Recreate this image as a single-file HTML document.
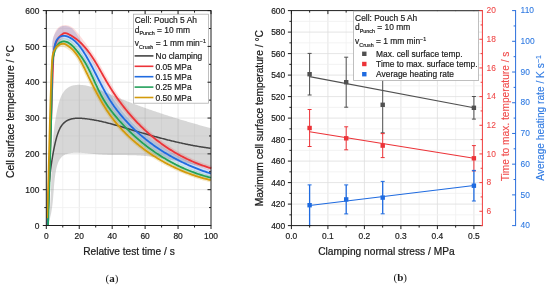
<!DOCTYPE html>
<html><head><meta charset="utf-8"><style>
html,body{margin:0;padding:0;background:#fff;width:550px;height:287px;overflow:hidden;}
#w{will-change:transform;width:550px;height:287px;}
svg{display:block;font-family:"Liberation Sans",sans-serif;}
</style></head><body><div id="w">
<svg width="550" height="287" viewBox="0 0 550 287">
<rect width="550" height="287" fill="#ffffff"/>
<line x1="62.77" y1="10.60" x2="62.77" y2="225.50" stroke="#f0f0f0" stroke-width="0.80"/>
<line x1="79.24" y1="10.60" x2="79.24" y2="225.50" stroke="#dedede" stroke-width="0.80"/>
<line x1="95.71" y1="10.60" x2="95.71" y2="225.50" stroke="#f0f0f0" stroke-width="0.80"/>
<line x1="112.18" y1="10.60" x2="112.18" y2="225.50" stroke="#dedede" stroke-width="0.80"/>
<line x1="128.65" y1="10.60" x2="128.65" y2="225.50" stroke="#f0f0f0" stroke-width="0.80"/>
<line x1="145.12" y1="10.60" x2="145.12" y2="225.50" stroke="#dedede" stroke-width="0.80"/>
<line x1="161.59" y1="10.60" x2="161.59" y2="225.50" stroke="#f0f0f0" stroke-width="0.80"/>
<line x1="178.06" y1="10.60" x2="178.06" y2="225.50" stroke="#dedede" stroke-width="0.80"/>
<line x1="194.53" y1="10.60" x2="194.53" y2="225.50" stroke="#f0f0f0" stroke-width="0.80"/>
<line x1="46.30" y1="207.59" x2="211.00" y2="207.59" stroke="#f0f0f0" stroke-width="0.80"/>
<line x1="46.30" y1="189.68" x2="211.00" y2="189.68" stroke="#dedede" stroke-width="0.80"/>
<line x1="46.30" y1="171.78" x2="211.00" y2="171.78" stroke="#f0f0f0" stroke-width="0.80"/>
<line x1="46.30" y1="153.87" x2="211.00" y2="153.87" stroke="#dedede" stroke-width="0.80"/>
<line x1="46.30" y1="135.96" x2="211.00" y2="135.96" stroke="#f0f0f0" stroke-width="0.80"/>
<line x1="46.30" y1="118.05" x2="211.00" y2="118.05" stroke="#dedede" stroke-width="0.80"/>
<line x1="46.30" y1="100.14" x2="211.00" y2="100.14" stroke="#f0f0f0" stroke-width="0.80"/>
<line x1="46.30" y1="82.23" x2="211.00" y2="82.23" stroke="#dedede" stroke-width="0.80"/>
<line x1="46.30" y1="64.32" x2="211.00" y2="64.32" stroke="#f0f0f0" stroke-width="0.80"/>
<line x1="46.30" y1="46.42" x2="211.00" y2="46.42" stroke="#dedede" stroke-width="0.80"/>
<line x1="46.30" y1="28.51" x2="211.00" y2="28.51" stroke="#f0f0f0" stroke-width="0.80"/>
<path d="M48.31 225.60 L48.43 224.60 L48.56 223.60 L48.67 222.61 L48.79 221.61 L48.90 220.62 L49.01 219.62 L49.11 218.63 L49.21 217.64 L49.31 216.65 L49.40 215.66 L49.49 214.67 L49.58 213.68 L49.66 212.69 L49.75 211.71 L49.82 210.72 L49.90 209.74 L49.97 208.75 L50.04 207.77 L50.11 206.79 L50.18 205.80 L50.24 204.82 L50.30 203.84 L50.36 202.86 L50.41 201.88 L50.47 200.90 L50.52 199.93 L50.57 198.95 L50.62 197.97 L50.67 197.00 L50.71 196.02 L50.75 195.04 L50.79 194.07 L50.83 193.09 L50.87 192.12 L50.91 191.15 L50.95 190.17 L50.98 189.20 L51.02 188.23 L51.05 187.26 L51.08 186.29 L51.11 185.32 L51.14 184.34 L51.17 183.37 L51.20 182.40 L51.23 181.43 L51.26 180.46 L51.28 179.50 L51.31 178.53 L51.34 177.56 L51.36 176.59 L51.39 175.62 L51.42 174.65 L51.45 173.68 L51.47 172.72 L51.50 171.75 L51.53 170.78 L51.56 169.81 L51.58 168.84 L51.61 167.88 L51.64 166.91 L51.67 165.94 L51.70 164.97 L51.74 164.01 L51.77 163.04 L51.80 162.07 L51.84 161.10 L51.87 160.13 L51.91 159.17 L51.95 158.20 L51.99 157.23 L52.03 156.26 L52.08 155.29 L52.12 154.32 L52.17 153.35 L52.22 152.38 L52.27 151.41 L52.32 150.44 L52.37 149.47 L52.43 148.50 L52.49 147.53 L52.55 146.56 L52.61 145.59 L52.68 144.62 L52.75 143.65 L52.82 142.67 L52.89 141.70 L52.97 140.73 L53.05 139.75 L53.13 138.78 L53.21 137.80 L53.30 136.83 L53.39 135.85 L53.49 134.87 L53.58 133.90 L53.68 132.92 L53.79 131.94 L53.90 130.96 L54.01 129.98 L54.12 129.00 L54.24 128.02 L54.36 127.04 L54.49 126.06 L54.62 125.07 L54.76 124.09 L54.89 123.10 L55.04 122.12 L55.18 121.13 L55.34 120.15 L55.49 119.16 L55.65 118.17 L55.82 117.18 L55.99 116.19 L56.16 115.20 L56.34 114.21 L56.53 113.21 L56.72 112.22 L56.91 111.22 L57.11 110.23 L57.32 109.23 L57.53 108.23 L57.74 107.24 L57.97 106.25 L58.21 105.26 L58.45 104.28 L58.71 103.30 L58.98 102.34 L59.26 101.38 L59.56 100.44 L59.87 99.51 L60.20 98.60 L60.55 97.70 L60.91 96.82 L61.30 95.96 L61.71 95.12 L62.13 94.31 L62.58 93.52 L63.06 92.75 L63.56 92.01 L64.09 91.30 L64.64 90.62 L65.22 89.98 L65.84 89.36 L66.48 88.78 L67.15 88.24 L67.86 87.73 L68.60 87.26 L69.37 86.84 L70.18 86.45 L71.03 86.11 L71.91 85.81 L72.82 85.56 L73.76 85.34 L74.73 85.17 L75.71 85.03 L76.71 84.93 L77.73 84.87 L78.76 84.84 L79.80 84.85 L80.85 84.89 L81.89 84.96 L82.94 85.06 L83.98 85.19 L85.01 85.34 L86.04 85.53 L87.06 85.74 L88.07 85.96 L89.06 86.21 L90.05 86.47 L91.03 86.75 L92.00 87.04 L92.95 87.34 L93.90 87.65 L94.83 87.97 L95.76 88.31 L96.68 88.65 L97.60 89.00 L98.51 89.36 L99.41 89.72 L100.31 90.09 L101.20 90.47 L102.10 90.85 L102.98 91.23 L103.87 91.61 L104.76 92.00 L105.64 92.38 L106.52 92.77 L107.41 93.16 L108.30 93.54 L109.18 93.92 L110.07 94.30 L110.96 94.68 L111.85 95.06 L112.74 95.44 L113.64 95.81 L114.53 96.19 L115.43 96.56 L116.32 96.93 L117.22 97.30 L118.12 97.67 L119.02 98.04 L119.92 98.40 L120.82 98.77 L121.72 99.13 L122.62 99.49 L123.53 99.85 L124.43 100.21 L125.34 100.57 L126.24 100.92 L127.15 101.28 L128.06 101.63 L128.97 101.98 L129.88 102.33 L130.79 102.68 L131.70 103.03 L132.62 103.38 L133.53 103.72 L134.45 104.06 L135.36 104.41 L136.28 104.75 L137.19 105.09 L138.11 105.43 L139.03 105.76 L139.95 106.10 L140.87 106.43 L141.79 106.77 L142.71 107.10 L143.63 107.43 L144.55 107.76 L145.48 108.09 L146.40 108.42 L147.33 108.74 L148.25 109.07 L149.18 109.39 L150.10 109.71 L151.03 110.03 L151.96 110.35 L152.88 110.67 L153.81 110.99 L154.74 111.30 L155.67 111.62 L156.60 111.93 L157.53 112.24 L158.46 112.56 L159.39 112.87 L160.33 113.17 L161.26 113.48 L162.19 113.79 L163.12 114.09 L164.06 114.40 L164.99 114.70 L165.93 115.00 L166.86 115.30 L167.80 115.60 L168.73 115.90 L169.67 116.20 L170.60 116.50 L171.54 116.79 L172.48 117.08 L173.41 117.38 L174.35 117.67 L175.29 117.96 L176.22 118.25 L177.16 118.54 L178.10 118.83 L179.04 119.11 L179.98 119.40 L180.92 119.68 L181.86 119.96 L182.79 120.25 L183.73 120.53 L184.67 120.81 L185.61 121.09 L186.55 121.36 L187.49 121.64 L188.43 121.92 L189.37 122.19 L190.31 122.46 L191.25 122.74 L192.19 123.01 L193.13 123.28 L194.07 123.55 L195.01 123.82 L195.95 124.09 L196.89 124.35 L197.83 124.62 L198.77 124.88 L199.71 125.15 L200.65 125.41 L201.59 125.67 L202.53 125.93 L203.46 126.19 L204.40 126.45 L205.34 126.71 L206.28 126.97 L207.22 127.22 L208.16 127.48 L209.10 127.73 L210.03 127.99 L210.97 128.24 L210.99 168.97 L210.29 168.80 L209.59 168.63 L208.88 168.46 L208.18 168.29 L207.47 168.12 L206.77 167.95 L206.06 167.78 L205.35 167.61 L204.64 167.44 L203.93 167.26 L203.22 167.09 L202.50 166.92 L201.79 166.75 L201.07 166.57 L200.36 166.40 L199.64 166.23 L198.92 166.05 L198.20 165.88 L197.48 165.71 L196.76 165.53 L196.03 165.36 L195.31 165.19 L194.58 165.01 L193.86 164.84 L193.13 164.67 L192.41 164.50 L191.68 164.33 L190.95 164.15 L190.22 163.98 L189.49 163.81 L188.76 163.64 L188.02 163.47 L187.29 163.31 L186.56 163.14 L185.82 162.97 L185.09 162.80 L184.36 162.64 L183.62 162.47 L182.88 162.31 L182.15 162.15 L181.41 161.98 L180.67 161.82 L179.93 161.66 L179.19 161.50 L178.45 161.34 L177.71 161.19 L176.97 161.03 L176.23 160.88 L175.49 160.72 L174.75 160.57 L174.01 160.42 L173.27 160.27 L172.53 160.12 L171.79 159.97 L171.04 159.83 L170.30 159.68 L169.56 159.54 L168.82 159.40 L168.07 159.26 L167.33 159.12 L166.59 158.99 L165.84 158.85 L165.10 158.72 L164.36 158.59 L163.61 158.46 L162.87 158.34 L162.13 158.21 L161.38 158.09 L160.64 157.97 L159.90 157.85 L159.15 157.73 L158.41 157.62 L157.67 157.51 L156.93 157.40 L156.18 157.29 L155.44 157.18 L154.70 157.08 L153.96 156.98 L153.22 156.88 L152.48 156.78 L151.74 156.69 L151.00 156.60 L150.26 156.51 L149.52 156.43 L148.78 156.34 L148.04 156.26 L147.30 156.18 L146.56 156.11 L145.83 156.04 L145.09 155.97 L144.35 155.90 L143.62 155.84 L142.88 155.78 L142.15 155.72 L141.42 155.67 L140.68 155.61 L139.95 155.57 L139.22 155.52 L138.49 155.48 L137.76 155.44 L137.03 155.40 L136.30 155.37 L135.57 155.34 L134.84 155.31 L134.12 155.28 L133.39 155.26 L132.66 155.24 L131.93 155.22 L131.21 155.20 L130.48 155.18 L129.75 155.17 L129.03 155.16 L128.30 155.14 L127.57 155.13 L126.84 155.12 L126.12 155.11 L125.39 155.11 L124.66 155.10 L123.93 155.09 L123.20 155.09 L122.47 155.08 L121.74 155.08 L121.01 155.07 L120.28 155.07 L119.54 155.06 L118.81 155.06 L118.08 155.05 L117.34 155.05 L116.60 155.04 L115.87 155.03 L115.13 155.03 L114.39 155.02 L113.65 155.01 L112.90 155.00 L112.16 154.98 L111.42 154.97 L110.67 154.96 L109.92 154.94 L109.17 154.92 L108.42 154.90 L107.67 154.88 L106.92 154.85 L106.16 154.83 L105.40 154.80 L104.64 154.77 L103.88 154.73 L103.12 154.70 L102.35 154.66 L101.59 154.61 L100.82 154.57 L100.04 154.52 L99.27 154.47 L98.49 154.41 L97.72 154.35 L96.93 154.29 L96.15 154.22 L95.37 154.15 L94.58 154.08 L93.79 154.00 L92.99 153.92 L92.20 153.84 L91.41 153.76 L90.61 153.68 L89.82 153.59 L89.02 153.51 L88.22 153.43 L87.43 153.35 L86.63 153.27 L85.84 153.20 L85.04 153.13 L84.25 153.06 L83.46 153.00 L82.67 152.94 L81.89 152.89 L81.11 152.85 L80.33 152.81 L79.55 152.78 L78.77 152.75 L78.00 152.74 L77.24 152.73 L76.48 152.74 L75.72 152.75 L74.97 152.78 L74.22 152.81 L73.48 152.86 L72.74 152.92 L72.01 153.00 L71.29 153.08 L70.57 153.18 L69.86 153.30 L69.16 153.43 L68.46 153.58 L67.78 153.75 L67.10 153.93 L66.44 154.14 L65.80 154.37 L65.18 154.62 L64.57 154.91 L63.99 155.22 L63.44 155.56 L62.91 155.93 L62.41 156.33 L61.93 156.75 L61.47 157.20 L61.04 157.68 L60.63 158.18 L60.24 158.71 L59.87 159.25 L59.52 159.82 L59.18 160.41 L58.87 161.01 L58.57 161.64 L58.29 162.28 L58.02 162.93 L57.77 163.60 L57.54 164.28 L57.31 164.97 L57.10 165.68 L56.90 166.39 L56.72 167.11 L56.54 167.84 L56.37 168.58 L56.21 169.32 L56.06 170.06 L55.92 170.81 L55.78 171.56 L55.65 172.31 L55.52 173.06 L55.40 173.81 L55.29 174.56 L55.18 175.31 L55.07 176.06 L54.97 176.82 L54.87 177.57 L54.78 178.32 L54.69 179.08 L54.61 179.83 L54.53 180.59 L54.45 181.34 L54.37 182.10 L54.30 182.85 L54.23 183.60 L54.16 184.36 L54.09 185.11 L54.03 185.87 L53.97 186.62 L53.90 187.38 L53.85 188.13 L53.79 188.89 L53.73 189.64 L53.67 190.39 L53.62 191.15 L53.56 191.90 L53.50 192.65 L53.45 193.40 L53.39 194.16 L53.33 194.91 L53.27 195.66 L53.21 196.41 L53.15 197.16 L53.09 197.90 L53.03 198.65 L52.96 199.40 L52.89 200.15 L52.82 200.89 L52.75 201.64 L52.67 202.38 L52.59 203.12 L52.51 203.87 L52.43 204.61 L52.34 205.35 L52.25 206.09 L52.15 206.82 L52.05 207.56 L51.94 208.30 L51.83 209.03 L51.72 209.76 L51.60 210.50 L51.47 211.23 L51.34 211.96 L51.21 212.68 L51.06 213.41 L50.91 214.13 L50.76 214.86 L50.60 215.58 L50.43 216.30 L50.25 217.02 L50.07 217.74 L49.88 218.45 L49.68 219.17 L49.48 219.88 L49.27 220.59 L49.04 221.30 L48.81 222.00 L48.57 222.71 L48.33 223.41 L48.07 224.11 L47.80 224.81 L47.53 225.51 Z" fill="#c0c0c0" fill-opacity="0.64" stroke="none"/>
<clipPath id="gb"><path d="M48.31 225.60 L48.43 224.60 L48.56 223.60 L48.67 222.61 L48.79 221.61 L48.90 220.62 L49.01 219.62 L49.11 218.63 L49.21 217.64 L49.31 216.65 L49.40 215.66 L49.49 214.67 L49.58 213.68 L49.66 212.69 L49.75 211.71 L49.82 210.72 L49.90 209.74 L49.97 208.75 L50.04 207.77 L50.11 206.79 L50.18 205.80 L50.24 204.82 L50.30 203.84 L50.36 202.86 L50.41 201.88 L50.47 200.90 L50.52 199.93 L50.57 198.95 L50.62 197.97 L50.67 197.00 L50.71 196.02 L50.75 195.04 L50.79 194.07 L50.83 193.09 L50.87 192.12 L50.91 191.15 L50.95 190.17 L50.98 189.20 L51.02 188.23 L51.05 187.26 L51.08 186.29 L51.11 185.32 L51.14 184.34 L51.17 183.37 L51.20 182.40 L51.23 181.43 L51.26 180.46 L51.28 179.50 L51.31 178.53 L51.34 177.56 L51.36 176.59 L51.39 175.62 L51.42 174.65 L51.45 173.68 L51.47 172.72 L51.50 171.75 L51.53 170.78 L51.56 169.81 L51.58 168.84 L51.61 167.88 L51.64 166.91 L51.67 165.94 L51.70 164.97 L51.74 164.01 L51.77 163.04 L51.80 162.07 L51.84 161.10 L51.87 160.13 L51.91 159.17 L51.95 158.20 L51.99 157.23 L52.03 156.26 L52.08 155.29 L52.12 154.32 L52.17 153.35 L52.22 152.38 L52.27 151.41 L52.32 150.44 L52.37 149.47 L52.43 148.50 L52.49 147.53 L52.55 146.56 L52.61 145.59 L52.68 144.62 L52.75 143.65 L52.82 142.67 L52.89 141.70 L52.97 140.73 L53.05 139.75 L53.13 138.78 L53.21 137.80 L53.30 136.83 L53.39 135.85 L53.49 134.87 L53.58 133.90 L53.68 132.92 L53.79 131.94 L53.90 130.96 L54.01 129.98 L54.12 129.00 L54.24 128.02 L54.36 127.04 L54.49 126.06 L54.62 125.07 L54.76 124.09 L54.89 123.10 L55.04 122.12 L55.18 121.13 L55.34 120.15 L55.49 119.16 L55.65 118.17 L55.82 117.18 L55.99 116.19 L56.16 115.20 L56.34 114.21 L56.53 113.21 L56.72 112.22 L56.91 111.22 L57.11 110.23 L57.32 109.23 L57.53 108.23 L57.74 107.24 L57.97 106.25 L58.21 105.26 L58.45 104.28 L58.71 103.30 L58.98 102.34 L59.26 101.38 L59.56 100.44 L59.87 99.51 L60.20 98.60 L60.55 97.70 L60.91 96.82 L61.30 95.96 L61.71 95.12 L62.13 94.31 L62.58 93.52 L63.06 92.75 L63.56 92.01 L64.09 91.30 L64.64 90.62 L65.22 89.98 L65.84 89.36 L66.48 88.78 L67.15 88.24 L67.86 87.73 L68.60 87.26 L69.37 86.84 L70.18 86.45 L71.03 86.11 L71.91 85.81 L72.82 85.56 L73.76 85.34 L74.73 85.17 L75.71 85.03 L76.71 84.93 L77.73 84.87 L78.76 84.84 L79.80 84.85 L80.85 84.89 L81.89 84.96 L82.94 85.06 L83.98 85.19 L85.01 85.34 L86.04 85.53 L87.06 85.74 L88.07 85.96 L89.06 86.21 L90.05 86.47 L91.03 86.75 L92.00 87.04 L92.95 87.34 L93.90 87.65 L94.83 87.97 L95.76 88.31 L96.68 88.65 L97.60 89.00 L98.51 89.36 L99.41 89.72 L100.31 90.09 L101.20 90.47 L102.10 90.85 L102.98 91.23 L103.87 91.61 L104.76 92.00 L105.64 92.38 L106.52 92.77 L107.41 93.16 L108.30 93.54 L109.18 93.92 L110.07 94.30 L110.96 94.68 L111.85 95.06 L112.74 95.44 L113.64 95.81 L114.53 96.19 L115.43 96.56 L116.32 96.93 L117.22 97.30 L118.12 97.67 L119.02 98.04 L119.92 98.40 L120.82 98.77 L121.72 99.13 L122.62 99.49 L123.53 99.85 L124.43 100.21 L125.34 100.57 L126.24 100.92 L127.15 101.28 L128.06 101.63 L128.97 101.98 L129.88 102.33 L130.79 102.68 L131.70 103.03 L132.62 103.38 L133.53 103.72 L134.45 104.06 L135.36 104.41 L136.28 104.75 L137.19 105.09 L138.11 105.43 L139.03 105.76 L139.95 106.10 L140.87 106.43 L141.79 106.77 L142.71 107.10 L143.63 107.43 L144.55 107.76 L145.48 108.09 L146.40 108.42 L147.33 108.74 L148.25 109.07 L149.18 109.39 L150.10 109.71 L151.03 110.03 L151.96 110.35 L152.88 110.67 L153.81 110.99 L154.74 111.30 L155.67 111.62 L156.60 111.93 L157.53 112.24 L158.46 112.56 L159.39 112.87 L160.33 113.17 L161.26 113.48 L162.19 113.79 L163.12 114.09 L164.06 114.40 L164.99 114.70 L165.93 115.00 L166.86 115.30 L167.80 115.60 L168.73 115.90 L169.67 116.20 L170.60 116.50 L171.54 116.79 L172.48 117.08 L173.41 117.38 L174.35 117.67 L175.29 117.96 L176.22 118.25 L177.16 118.54 L178.10 118.83 L179.04 119.11 L179.98 119.40 L180.92 119.68 L181.86 119.96 L182.79 120.25 L183.73 120.53 L184.67 120.81 L185.61 121.09 L186.55 121.36 L187.49 121.64 L188.43 121.92 L189.37 122.19 L190.31 122.46 L191.25 122.74 L192.19 123.01 L193.13 123.28 L194.07 123.55 L195.01 123.82 L195.95 124.09 L196.89 124.35 L197.83 124.62 L198.77 124.88 L199.71 125.15 L200.65 125.41 L201.59 125.67 L202.53 125.93 L203.46 126.19 L204.40 126.45 L205.34 126.71 L206.28 126.97 L207.22 127.22 L208.16 127.48 L209.10 127.73 L210.03 127.99 L210.97 128.24 L210.99 168.97 L210.29 168.80 L209.59 168.63 L208.88 168.46 L208.18 168.29 L207.47 168.12 L206.77 167.95 L206.06 167.78 L205.35 167.61 L204.64 167.44 L203.93 167.26 L203.22 167.09 L202.50 166.92 L201.79 166.75 L201.07 166.57 L200.36 166.40 L199.64 166.23 L198.92 166.05 L198.20 165.88 L197.48 165.71 L196.76 165.53 L196.03 165.36 L195.31 165.19 L194.58 165.01 L193.86 164.84 L193.13 164.67 L192.41 164.50 L191.68 164.33 L190.95 164.15 L190.22 163.98 L189.49 163.81 L188.76 163.64 L188.02 163.47 L187.29 163.31 L186.56 163.14 L185.82 162.97 L185.09 162.80 L184.36 162.64 L183.62 162.47 L182.88 162.31 L182.15 162.15 L181.41 161.98 L180.67 161.82 L179.93 161.66 L179.19 161.50 L178.45 161.34 L177.71 161.19 L176.97 161.03 L176.23 160.88 L175.49 160.72 L174.75 160.57 L174.01 160.42 L173.27 160.27 L172.53 160.12 L171.79 159.97 L171.04 159.83 L170.30 159.68 L169.56 159.54 L168.82 159.40 L168.07 159.26 L167.33 159.12 L166.59 158.99 L165.84 158.85 L165.10 158.72 L164.36 158.59 L163.61 158.46 L162.87 158.34 L162.13 158.21 L161.38 158.09 L160.64 157.97 L159.90 157.85 L159.15 157.73 L158.41 157.62 L157.67 157.51 L156.93 157.40 L156.18 157.29 L155.44 157.18 L154.70 157.08 L153.96 156.98 L153.22 156.88 L152.48 156.78 L151.74 156.69 L151.00 156.60 L150.26 156.51 L149.52 156.43 L148.78 156.34 L148.04 156.26 L147.30 156.18 L146.56 156.11 L145.83 156.04 L145.09 155.97 L144.35 155.90 L143.62 155.84 L142.88 155.78 L142.15 155.72 L141.42 155.67 L140.68 155.61 L139.95 155.57 L139.22 155.52 L138.49 155.48 L137.76 155.44 L137.03 155.40 L136.30 155.37 L135.57 155.34 L134.84 155.31 L134.12 155.28 L133.39 155.26 L132.66 155.24 L131.93 155.22 L131.21 155.20 L130.48 155.18 L129.75 155.17 L129.03 155.16 L128.30 155.14 L127.57 155.13 L126.84 155.12 L126.12 155.11 L125.39 155.11 L124.66 155.10 L123.93 155.09 L123.20 155.09 L122.47 155.08 L121.74 155.08 L121.01 155.07 L120.28 155.07 L119.54 155.06 L118.81 155.06 L118.08 155.05 L117.34 155.05 L116.60 155.04 L115.87 155.03 L115.13 155.03 L114.39 155.02 L113.65 155.01 L112.90 155.00 L112.16 154.98 L111.42 154.97 L110.67 154.96 L109.92 154.94 L109.17 154.92 L108.42 154.90 L107.67 154.88 L106.92 154.85 L106.16 154.83 L105.40 154.80 L104.64 154.77 L103.88 154.73 L103.12 154.70 L102.35 154.66 L101.59 154.61 L100.82 154.57 L100.04 154.52 L99.27 154.47 L98.49 154.41 L97.72 154.35 L96.93 154.29 L96.15 154.22 L95.37 154.15 L94.58 154.08 L93.79 154.00 L92.99 153.92 L92.20 153.84 L91.41 153.76 L90.61 153.68 L89.82 153.59 L89.02 153.51 L88.22 153.43 L87.43 153.35 L86.63 153.27 L85.84 153.20 L85.04 153.13 L84.25 153.06 L83.46 153.00 L82.67 152.94 L81.89 152.89 L81.11 152.85 L80.33 152.81 L79.55 152.78 L78.77 152.75 L78.00 152.74 L77.24 152.73 L76.48 152.74 L75.72 152.75 L74.97 152.78 L74.22 152.81 L73.48 152.86 L72.74 152.92 L72.01 153.00 L71.29 153.08 L70.57 153.18 L69.86 153.30 L69.16 153.43 L68.46 153.58 L67.78 153.75 L67.10 153.93 L66.44 154.14 L65.80 154.37 L65.18 154.62 L64.57 154.91 L63.99 155.22 L63.44 155.56 L62.91 155.93 L62.41 156.33 L61.93 156.75 L61.47 157.20 L61.04 157.68 L60.63 158.18 L60.24 158.71 L59.87 159.25 L59.52 159.82 L59.18 160.41 L58.87 161.01 L58.57 161.64 L58.29 162.28 L58.02 162.93 L57.77 163.60 L57.54 164.28 L57.31 164.97 L57.10 165.68 L56.90 166.39 L56.72 167.11 L56.54 167.84 L56.37 168.58 L56.21 169.32 L56.06 170.06 L55.92 170.81 L55.78 171.56 L55.65 172.31 L55.52 173.06 L55.40 173.81 L55.29 174.56 L55.18 175.31 L55.07 176.06 L54.97 176.82 L54.87 177.57 L54.78 178.32 L54.69 179.08 L54.61 179.83 L54.53 180.59 L54.45 181.34 L54.37 182.10 L54.30 182.85 L54.23 183.60 L54.16 184.36 L54.09 185.11 L54.03 185.87 L53.97 186.62 L53.90 187.38 L53.85 188.13 L53.79 188.89 L53.73 189.64 L53.67 190.39 L53.62 191.15 L53.56 191.90 L53.50 192.65 L53.45 193.40 L53.39 194.16 L53.33 194.91 L53.27 195.66 L53.21 196.41 L53.15 197.16 L53.09 197.90 L53.03 198.65 L52.96 199.40 L52.89 200.15 L52.82 200.89 L52.75 201.64 L52.67 202.38 L52.59 203.12 L52.51 203.87 L52.43 204.61 L52.34 205.35 L52.25 206.09 L52.15 206.82 L52.05 207.56 L51.94 208.30 L51.83 209.03 L51.72 209.76 L51.60 210.50 L51.47 211.23 L51.34 211.96 L51.21 212.68 L51.06 213.41 L50.91 214.13 L50.76 214.86 L50.60 215.58 L50.43 216.30 L50.25 217.02 L50.07 217.74 L49.88 218.45 L49.68 219.17 L49.48 219.88 L49.27 220.59 L49.04 221.30 L48.81 222.00 L48.57 222.71 L48.33 223.41 L48.07 224.11 L47.80 224.81 L47.53 225.51 Z"/></clipPath><g clip-path="url(#gb)">
<line x1="62.77" y1="10.60" x2="62.77" y2="225.50" stroke="#000000" stroke-width="0.80" stroke-opacity="0.025"/>
<line x1="79.24" y1="10.60" x2="79.24" y2="225.50" stroke="#000000" stroke-width="0.80" stroke-opacity="0.06"/>
<line x1="95.71" y1="10.60" x2="95.71" y2="225.50" stroke="#000000" stroke-width="0.80" stroke-opacity="0.025"/>
<line x1="112.18" y1="10.60" x2="112.18" y2="225.50" stroke="#000000" stroke-width="0.80" stroke-opacity="0.06"/>
<line x1="128.65" y1="10.60" x2="128.65" y2="225.50" stroke="#000000" stroke-width="0.80" stroke-opacity="0.025"/>
<line x1="145.12" y1="10.60" x2="145.12" y2="225.50" stroke="#000000" stroke-width="0.80" stroke-opacity="0.06"/>
<line x1="161.59" y1="10.60" x2="161.59" y2="225.50" stroke="#000000" stroke-width="0.80" stroke-opacity="0.025"/>
<line x1="178.06" y1="10.60" x2="178.06" y2="225.50" stroke="#000000" stroke-width="0.80" stroke-opacity="0.06"/>
<line x1="194.53" y1="10.60" x2="194.53" y2="225.50" stroke="#000000" stroke-width="0.80" stroke-opacity="0.025"/>
<line x1="46.30" y1="207.59" x2="211.00" y2="207.59" stroke="#000000" stroke-width="0.80" stroke-opacity="0.025"/>
<line x1="46.30" y1="189.68" x2="211.00" y2="189.68" stroke="#000000" stroke-width="0.80" stroke-opacity="0.06"/>
<line x1="46.30" y1="171.78" x2="211.00" y2="171.78" stroke="#000000" stroke-width="0.80" stroke-opacity="0.025"/>
<line x1="46.30" y1="153.87" x2="211.00" y2="153.87" stroke="#000000" stroke-width="0.80" stroke-opacity="0.06"/>
<line x1="46.30" y1="135.96" x2="211.00" y2="135.96" stroke="#000000" stroke-width="0.80" stroke-opacity="0.025"/>
<line x1="46.30" y1="118.05" x2="211.00" y2="118.05" stroke="#000000" stroke-width="0.80" stroke-opacity="0.06"/>
<line x1="46.30" y1="100.14" x2="211.00" y2="100.14" stroke="#000000" stroke-width="0.80" stroke-opacity="0.025"/>
<line x1="46.30" y1="82.23" x2="211.00" y2="82.23" stroke="#000000" stroke-width="0.80" stroke-opacity="0.06"/>
<line x1="46.30" y1="64.32" x2="211.00" y2="64.32" stroke="#000000" stroke-width="0.80" stroke-opacity="0.025"/>
<line x1="46.30" y1="46.42" x2="211.00" y2="46.42" stroke="#000000" stroke-width="0.80" stroke-opacity="0.06"/>
<line x1="46.30" y1="28.51" x2="211.00" y2="28.51" stroke="#000000" stroke-width="0.80" stroke-opacity="0.025"/>
</g>
<path d="M47.16 218.10 L47.21 216.78 L47.26 215.46 L47.31 214.14 L47.35 212.82 L47.40 211.50 L47.44 210.18 L47.49 208.87 L47.54 207.55 L47.58 206.24 L47.62 204.92 L47.67 203.61 L47.71 202.30 L47.75 200.99 L47.79 199.68 L47.83 198.37 L47.88 197.06 L47.92 195.76 L47.96 194.45 L48.00 193.14 L48.03 191.84 L48.07 190.53 L48.11 189.23 L48.15 187.93 L48.19 186.62 L48.23 185.32 L48.26 184.02 L48.30 182.72 L48.34 181.42 L48.37 180.12 L48.41 178.82 L48.44 177.52 L48.48 176.23 L48.51 174.93 L48.55 173.63 L48.58 172.34 L48.62 171.04 L48.65 169.74 L48.68 168.45 L48.72 167.15 L48.75 165.86 L48.79 164.56 L48.82 163.27 L48.85 161.98 L48.89 160.68 L48.92 159.39 L48.95 158.10 L48.98 156.80 L49.02 155.51 L49.05 154.22 L49.08 152.92 L49.12 151.63 L49.15 150.34 L49.18 149.05 L49.21 147.75 L49.25 146.46 L49.28 145.17 L49.31 143.88 L49.35 142.58 L49.38 141.29 L49.41 140.00 L49.44 138.71 L49.48 137.41 L49.51 136.12 L49.54 134.83 L49.58 133.53 L49.61 132.24 L49.65 130.94 L49.68 129.65 L49.71 128.36 L49.75 127.06 L49.78 125.77 L49.82 124.47 L49.85 123.17 L49.89 121.88 L49.93 120.58 L49.96 119.28 L50.00 117.99 L50.04 116.69 L50.07 115.39 L50.11 114.09 L50.15 112.79 L50.19 111.49 L50.22 110.19 L50.26 108.89 L50.30 107.59 L50.34 106.28 L50.38 104.98 L50.42 103.68 L50.46 102.37 L50.50 101.07 L50.55 99.76 L50.59 98.45 L50.63 97.15 L50.68 95.84 L50.72 94.53 L50.76 93.22 L50.81 91.91 L50.85 90.60 L50.90 89.28 L50.95 87.97 L50.99 86.66 L51.04 85.34 L51.09 84.02 L51.14 82.71 L51.19 81.39 L51.24 80.07 L51.29 78.75 L51.34 77.43 L51.39 76.10 L51.45 74.78 L51.50 73.45 L51.56 72.13 L51.61 70.80 L51.67 69.47 L51.72 68.14 L51.78 66.81 L51.84 65.48 L51.90 64.14 L51.96 62.81 L51.97 61.47 L51.91 60.13 L51.87 58.80 L51.86 57.47 L51.90 56.14 L51.99 54.83 L52.14 53.52 L52.37 52.22 L52.68 50.93 L53.10 49.65 L53.62 48.39 L54.28 47.15 L55.07 45.94 L56.01 44.77 L57.11 43.66 L58.38 42.66 L59.62 41.28 L61.37 40.73 L63.29 40.55 L65.20 40.85 L66.87 41.51 L68.24 42.29 L69.45 43.12 L70.57 43.98 L71.65 44.90 L72.67 45.85 L73.64 46.83 L74.57 47.84 L75.46 48.88 L76.32 49.94 L77.14 51.02 L77.94 52.12 L78.71 53.24 L79.45 54.37 L80.17 55.52 L80.87 56.68 L81.56 57.85 L82.22 59.04 L82.87 60.23 L83.51 61.43 L84.13 62.63 L84.74 63.84 L85.34 65.06 L85.94 66.27 L86.53 67.48 L87.11 68.69 L87.69 69.89 L88.27 71.09 L88.85 72.29 L89.43 73.48 L90.01 74.68 L90.59 75.87 L91.16 77.06 L91.74 78.24 L92.32 79.42 L92.90 80.60 L93.48 81.77 L94.06 82.95 L94.64 84.11 L95.23 85.28 L95.81 86.44 L96.40 87.59 L97.00 88.75 L97.59 89.90 L98.19 91.04 L98.79 92.18 L99.39 93.32 L100.00 94.45 L100.62 95.57 L101.23 96.70 L101.86 97.81 L102.48 98.93 L103.12 100.03 L103.76 101.13 L104.40 102.23 L105.05 103.32 L105.71 104.41 L106.37 105.49 L107.04 106.56 L107.72 107.63 L108.41 108.69 L109.10 109.75 L109.80 110.80 L110.52 111.84 L111.24 112.88 L111.96 113.91 L112.70 114.94 L113.45 115.96 L114.21 116.97 L114.97 117.97 L115.75 118.97 L116.54 119.97 L117.34 120.95 L118.14 121.93 L118.96 122.91 L119.79 123.87 L120.62 124.83 L121.47 125.79 L122.32 126.74 L123.18 127.68 L124.05 128.61 L124.93 129.54 L125.82 130.46 L126.72 131.37 L127.63 132.28 L128.54 133.18 L129.46 134.07 L130.40 134.96 L131.33 135.84 L132.28 136.71 L133.24 137.58 L134.20 138.43 L135.17 139.28 L136.14 140.13 L137.13 140.96 L138.12 141.79 L139.12 142.62 L140.13 143.43 L141.14 144.24 L142.16 145.04 L143.18 145.83 L144.22 146.61 L145.25 147.39 L146.30 148.16 L147.35 148.92 L148.41 149.68 L149.47 150.42 L150.54 151.16 L151.62 151.89 L152.70 152.62 L153.78 153.33 L154.87 154.04 L155.97 154.74 L157.07 155.43 L158.18 156.11 L159.29 156.79 L160.41 157.46 L161.53 158.12 L162.65 158.77 L163.78 159.41 L164.92 160.05 L166.05 160.67 L167.20 161.29 L168.34 161.90 L169.49 162.50 L170.65 163.10 L171.80 163.68 L172.97 164.26 L174.13 164.82 L175.30 165.38 L176.47 165.93 L177.64 166.48 L178.82 167.01 L180.00 167.53 L181.18 168.05 L182.37 168.56 L183.55 169.06 L184.74 169.54 L185.94 170.03 L187.13 170.50 L188.32 170.96 L189.52 171.41 L190.72 171.86 L191.92 172.29 L193.13 172.72 L194.33 173.14 L195.53 173.54 L196.74 173.94 L197.95 174.33 L199.16 174.71 L200.37 175.08 L201.58 175.45 L202.79 175.80 L204.00 176.14 L205.21 176.47 L206.42 176.80 L207.63 177.11 L208.84 177.42 L210.05 177.71 L211.27 178.00 L210.26 182.28 L209.03 181.99 L207.79 181.69 L206.54 181.37 L205.30 181.05 L204.06 180.72 L202.81 180.38 L201.57 180.03 L200.33 179.67 L199.09 179.30 L197.85 178.91 L196.61 178.53 L195.38 178.13 L194.14 177.72 L192.90 177.30 L191.67 176.87 L190.44 176.43 L189.21 175.99 L187.98 175.53 L186.75 175.07 L185.53 174.59 L184.30 174.11 L183.08 173.62 L181.87 173.12 L180.65 172.61 L179.44 172.09 L178.23 171.56 L177.02 171.02 L175.81 170.48 L174.61 169.92 L173.41 169.36 L172.22 168.79 L171.02 168.21 L169.83 167.62 L168.65 167.02 L167.47 166.41 L166.29 165.79 L165.12 165.17 L163.95 164.54 L162.78 163.89 L161.62 163.24 L160.46 162.58 L159.31 161.92 L158.16 161.24 L157.02 160.56 L155.88 159.87 L154.74 159.17 L153.62 158.46 L152.49 157.74 L151.37 157.02 L150.26 156.28 L149.15 155.54 L148.05 154.79 L146.96 154.03 L145.87 153.27 L144.78 152.49 L143.70 151.71 L142.63 150.92 L141.57 150.13 L140.51 149.32 L139.45 148.51 L138.41 147.69 L137.37 146.86 L136.34 146.02 L135.31 145.18 L134.29 144.33 L133.28 143.47 L132.28 142.60 L131.28 141.73 L130.29 140.85 L129.31 139.96 L128.34 139.06 L127.37 138.16 L126.42 137.25 L125.47 136.33 L124.53 135.40 L123.60 134.47 L122.67 133.53 L121.76 132.58 L120.85 131.63 L119.95 130.67 L119.06 129.70 L118.18 128.72 L117.31 127.74 L116.45 126.75 L115.60 125.75 L114.76 124.75 L113.93 123.73 L113.10 122.72 L112.29 121.69 L111.49 120.66 L110.70 119.62 L109.91 118.58 L109.14 117.53 L108.38 116.47 L107.63 115.41 L106.89 114.34 L106.16 113.26 L105.43 112.18 L104.72 111.09 L104.02 110.00 L103.32 108.91 L102.63 107.81 L101.95 106.70 L101.28 105.59 L100.61 104.47 L99.96 103.35 L99.30 102.23 L98.66 101.10 L98.02 99.97 L97.38 98.83 L96.76 97.69 L96.13 96.54 L95.51 95.39 L94.90 94.24 L94.29 93.09 L93.69 91.93 L93.08 90.76 L92.49 89.60 L91.89 88.43 L91.30 87.26 L90.71 86.08 L90.12 84.91 L89.54 83.73 L88.95 82.55 L88.37 81.36 L87.79 80.17 L87.21 78.99 L86.63 77.80 L86.04 76.60 L85.46 75.41 L84.88 74.21 L84.30 73.02 L83.72 71.82 L83.13 70.62 L82.54 69.42 L81.96 68.23 L81.36 67.04 L80.76 65.86 L80.16 64.69 L79.54 63.54 L78.91 62.40 L78.27 61.28 L77.61 60.18 L76.94 59.10 L76.25 58.04 L75.54 57.02 L74.80 56.02 L74.05 55.06 L73.27 54.14 L72.46 53.25 L71.63 52.40 L70.77 51.60 L69.88 50.84 L68.97 50.13 L68.03 49.46 L67.07 48.84 L66.09 48.25 L65.10 47.71 L64.20 47.28 L63.52 47.02 L63.02 46.93 L62.49 46.94 L61.79 47.08 L60.66 46.81 L59.69 47.24 L58.72 47.80 L57.81 48.46 L56.98 49.19 L56.24 50.00 L55.57 50.89 L54.96 51.86 L54.43 52.89 L53.95 53.99 L53.54 55.15 L53.17 56.35 L52.85 57.59 L52.57 58.86 L52.32 60.16 L52.09 61.48 L51.96 62.81 L51.90 64.14 L51.84 65.48 L51.78 66.81 L51.72 68.14 L51.67 69.47 L51.61 70.80 L51.56 72.13 L51.50 73.45 L51.45 74.78 L51.39 76.10 L51.34 77.43 L51.29 78.75 L51.24 80.07 L51.19 81.39 L51.14 82.71 L51.09 84.02 L51.04 85.34 L50.99 86.66 L50.95 87.97 L50.90 89.28 L50.85 90.60 L50.81 91.91 L50.76 93.22 L50.72 94.53 L50.68 95.84 L50.63 97.15 L50.59 98.45 L50.55 99.76 L50.50 101.07 L50.46 102.37 L50.42 103.68 L50.38 104.98 L50.34 106.28 L50.30 107.59 L50.26 108.89 L50.22 110.19 L50.19 111.49 L50.15 112.79 L50.11 114.09 L50.07 115.39 L50.04 116.69 L50.00 117.99 L49.96 119.28 L49.93 120.58 L49.89 121.88 L49.85 123.17 L49.82 124.47 L49.78 125.77 L49.75 127.06 L49.71 128.36 L49.68 129.65 L49.65 130.94 L49.61 132.24 L49.58 133.53 L49.54 134.83 L49.51 136.12 L49.48 137.41 L49.44 138.71 L49.41 140.00 L49.38 141.29 L49.35 142.58 L49.31 143.88 L49.28 145.17 L49.25 146.46 L49.21 147.75 L49.18 149.05 L49.15 150.34 L49.12 151.63 L49.08 152.92 L49.05 154.22 L49.02 155.51 L48.98 156.80 L48.95 158.10 L48.92 159.39 L48.89 160.68 L48.85 161.98 L48.82 163.27 L48.79 164.56 L48.75 165.86 L48.72 167.15 L48.68 168.45 L48.65 169.74 L48.62 171.04 L48.58 172.34 L48.55 173.63 L48.51 174.93 L48.48 176.23 L48.44 177.52 L48.41 178.82 L48.37 180.12 L48.34 181.42 L48.30 182.72 L48.26 184.02 L48.23 185.32 L48.19 186.62 L48.15 187.93 L48.11 189.23 L48.07 190.53 L48.03 191.84 L48.00 193.14 L47.96 194.45 L47.92 195.76 L47.88 197.06 L47.83 198.37 L47.79 199.68 L47.75 200.99 L47.71 202.30 L47.67 203.61 L47.62 204.92 L47.58 206.24 L47.54 207.55 L47.49 208.87 L47.44 210.18 L47.40 211.50 L47.35 212.82 L47.31 214.14 L47.26 215.46 L47.21 216.78 L47.16 218.10 Z" fill="#d39a0a" fill-opacity="0.22" stroke="none"/>
<path d="M48.06 225.47 L48.10 224.15 L48.15 222.82 L48.19 221.50 L48.23 220.17 L48.27 218.84 L48.32 217.52 L48.36 216.19 L48.40 214.86 L48.45 213.53 L48.49 212.21 L48.53 210.88 L48.58 209.55 L48.62 208.22 L48.67 206.89 L48.71 205.56 L48.75 204.23 L48.80 202.90 L48.84 201.57 L48.88 200.24 L48.93 198.91 L48.97 197.58 L49.02 196.25 L49.06 194.92 L49.10 193.59 L49.15 192.26 L49.19 190.93 L49.23 189.60 L49.28 188.26 L49.32 186.93 L49.36 185.60 L49.41 184.27 L49.45 182.94 L49.49 181.60 L49.53 180.27 L49.58 178.94 L49.62 177.61 L49.66 176.27 L49.70 174.94 L49.74 173.61 L49.79 172.28 L49.83 170.94 L49.87 169.61 L49.91 168.28 L49.95 166.95 L49.99 165.61 L50.03 164.28 L50.07 162.95 L50.11 161.61 L50.15 160.28 L50.19 158.95 L50.23 157.61 L50.27 156.28 L50.30 154.95 L50.34 153.62 L50.38 152.28 L50.42 150.95 L50.45 149.62 L50.49 148.28 L50.53 146.95 L50.56 145.62 L50.60 144.29 L50.63 142.96 L50.67 141.62 L50.70 140.29 L50.73 138.96 L50.77 137.63 L50.80 136.29 L50.83 134.96 L50.86 133.63 L50.90 132.30 L50.93 130.97 L50.96 129.64 L50.99 128.31 L51.02 126.98 L51.05 125.64 L51.07 124.31 L51.10 122.98 L51.13 121.65 L51.16 120.32 L51.18 118.99 L51.21 117.67 L51.23 116.34 L51.26 115.01 L51.28 113.68 L51.31 112.35 L51.33 111.02 L51.35 109.69 L51.37 108.37 L51.39 107.04 L51.41 105.71 L51.43 104.38 L51.45 103.06 L51.47 101.73 L51.49 100.40 L51.50 99.08 L51.52 97.75 L51.54 96.43 L51.55 95.10 L51.57 93.78 L51.58 92.45 L51.59 91.13 L51.60 89.81 L51.61 88.48 L51.62 87.16 L51.63 85.84 L51.64 84.52 L51.65 83.19 L51.66 81.87 L51.66 80.55 L51.67 79.23 L51.68 77.91 L51.68 76.59 L51.70 75.27 L51.72 73.95 L51.74 72.62 L51.78 71.29 L51.83 69.96 L51.89 68.63 L51.96 67.29 L52.06 65.95 L52.17 64.61 L52.30 63.25 L52.45 61.90 L52.48 60.51 L52.53 59.11 L52.61 57.70 L52.72 56.28 L52.86 54.83 L53.04 53.37 L53.25 51.90 L53.50 50.43 L53.81 48.98 L54.19 47.54 L54.65 46.14 L55.19 44.78 L55.86 43.47 L56.67 42.24 L57.64 41.10 L58.60 39.82 L59.95 39.06 L61.42 38.51 L62.97 38.21 L64.56 38.17 L66.13 38.41 L67.64 38.87 L69.06 39.54 L70.38 40.36 L71.60 41.30 L72.76 42.32 L73.85 43.42 L74.90 44.56 L75.91 45.73 L76.87 46.91 L77.81 48.10 L78.71 49.27 L79.59 50.43 L80.44 51.57 L81.28 52.71 L82.09 53.85 L82.88 54.98 L83.65 56.11 L84.40 57.24 L85.13 58.37 L85.84 59.50 L86.53 60.64 L87.21 61.79 L87.88 62.95 L88.53 64.11 L89.17 65.28 L89.79 66.46 L90.41 67.65 L91.01 68.84 L91.61 70.03 L92.19 71.23 L92.77 72.44 L93.35 73.65 L93.91 74.86 L94.47 76.07 L95.03 77.28 L95.59 78.49 L96.14 79.71 L96.70 80.92 L97.25 82.13 L97.81 83.34 L98.36 84.55 L98.92 85.75 L99.49 86.95 L100.06 88.14 L100.63 89.33 L101.22 90.52 L101.81 91.69 L102.41 92.86 L103.01 94.02 L103.63 95.17 L104.26 96.32 L104.91 97.45 L105.56 98.57 L106.23 99.69 L106.92 100.79 L107.62 101.89 L108.33 102.98 L109.06 104.06 L109.80 105.14 L110.55 106.20 L111.32 107.26 L112.09 108.32 L112.88 109.37 L113.68 110.41 L114.49 111.44 L115.30 112.47 L116.13 113.49 L116.97 114.51 L117.81 115.52 L118.66 116.53 L119.52 117.53 L120.38 118.52 L121.26 119.51 L122.13 120.50 L123.02 121.47 L123.91 122.45 L124.81 123.41 L125.71 124.37 L126.63 125.33 L127.54 126.27 L128.47 127.21 L129.40 128.15 L130.33 129.08 L131.28 130.00 L132.23 130.92 L133.18 131.82 L134.14 132.73 L135.11 133.62 L136.08 134.51 L137.06 135.39 L138.05 136.27 L139.04 137.14 L140.04 138.00 L141.04 138.85 L142.05 139.70 L143.06 140.54 L144.08 141.38 L145.11 142.20 L146.14 143.02 L147.18 143.83 L148.22 144.64 L149.27 145.44 L150.32 146.23 L151.38 147.01 L152.45 147.78 L153.52 148.55 L154.59 149.31 L155.67 150.06 L156.76 150.80 L157.85 151.54 L158.94 152.27 L160.04 152.99 L161.15 153.70 L162.26 154.40 L163.38 155.10 L164.50 155.78 L165.62 156.46 L166.75 157.13 L167.89 157.80 L169.03 158.45 L170.17 159.10 L171.32 159.73 L172.47 160.36 L173.63 160.98 L174.79 161.59 L175.96 162.19 L177.13 162.79 L178.31 163.37 L179.49 163.95 L180.67 164.52 L181.86 165.07 L183.05 165.62 L184.25 166.16 L185.45 166.69 L186.66 167.21 L187.87 167.73 L189.08 168.23 L190.30 168.72 L191.52 169.21 L192.74 169.68 L193.97 170.15 L195.20 170.60 L196.44 171.05 L197.68 171.48 L198.92 171.91 L200.17 172.32 L201.42 172.73 L202.67 173.13 L203.93 173.51 L205.19 173.89 L206.46 174.26 L207.73 174.61 L209.00 174.96 L210.27 175.29 L211.56 175.62 L210.47 179.88 L209.17 179.55 L207.86 179.21 L206.55 178.85 L205.25 178.49 L203.95 178.11 L202.66 177.72 L201.37 177.33 L200.08 176.92 L198.79 176.50 L197.51 176.08 L196.24 175.64 L194.96 175.19 L193.69 174.73 L192.43 174.27 L191.17 173.79 L189.91 173.30 L188.66 172.81 L187.41 172.30 L186.17 171.78 L184.92 171.26 L183.69 170.72 L182.46 170.18 L181.23 169.63 L180.01 169.06 L178.79 168.49 L177.57 167.91 L176.36 167.32 L175.16 166.72 L173.96 166.11 L172.76 165.49 L171.57 164.87 L170.38 164.23 L169.20 163.59 L168.02 162.94 L166.85 162.27 L165.68 161.60 L164.52 160.93 L163.36 160.24 L162.21 159.54 L161.06 158.84 L159.92 158.13 L158.78 157.41 L157.65 156.68 L156.52 155.94 L155.40 155.19 L154.28 154.44 L153.17 153.68 L152.07 152.91 L150.97 152.13 L149.87 151.35 L148.78 150.56 L147.70 149.76 L146.62 148.95 L145.55 148.13 L144.48 147.31 L143.42 146.48 L142.36 145.64 L141.31 144.79 L140.27 143.94 L139.23 143.08 L138.20 142.21 L137.17 141.34 L136.15 140.46 L135.14 139.57 L134.13 138.67 L133.13 137.77 L132.13 136.86 L131.14 135.94 L130.16 135.02 L129.18 134.09 L128.21 133.16 L127.25 132.21 L126.29 131.26 L125.34 130.31 L124.39 129.35 L123.45 128.38 L122.52 127.40 L121.60 126.42 L120.68 125.43 L119.77 124.44 L118.86 123.44 L117.96 122.43 L117.07 121.42 L116.19 120.40 L115.31 119.38 L114.44 118.35 L113.58 117.31 L112.72 116.27 L111.87 115.22 L111.03 114.16 L110.20 113.10 L109.38 112.03 L108.56 110.95 L107.76 109.86 L106.97 108.76 L106.19 107.65 L105.42 106.54 L104.66 105.41 L103.92 104.28 L103.19 103.14 L102.48 101.98 L101.78 100.82 L101.09 99.65 L100.42 98.46 L99.77 97.28 L99.13 96.08 L98.50 94.88 L97.88 93.68 L97.28 92.47 L96.68 91.26 L96.09 90.05 L95.51 88.83 L94.94 87.62 L94.37 86.40 L93.81 85.18 L93.25 83.97 L92.69 82.75 L92.14 81.54 L91.59 80.33 L91.03 79.12 L90.48 77.91 L89.92 76.72 L89.36 75.52 L88.80 74.34 L88.23 73.16 L87.66 71.98 L87.08 70.82 L86.49 69.66 L85.89 68.51 L85.29 67.38 L84.67 66.25 L84.04 65.13 L83.40 64.03 L82.75 62.94 L82.07 61.85 L81.38 60.78 L80.68 59.71 L79.95 58.64 L79.19 57.58 L78.41 56.52 L77.61 55.46 L76.77 54.40 L75.90 53.35 L75.00 52.29 L74.07 51.24 L73.11 50.20 L72.13 49.20 L71.13 48.27 L70.13 47.40 L69.14 46.64 L68.17 45.98 L67.23 45.46 L66.36 45.06 L65.56 44.79 L64.84 44.63 L64.19 44.56 L63.59 44.57 L63.00 44.65 L62.40 44.80 L61.79 45.05 L60.91 45.09 L60.18 45.54 L59.45 46.16 L58.71 46.93 L57.99 47.85 L57.30 48.89 L56.65 50.03 L56.04 51.25 L55.47 52.53 L54.93 53.85 L54.44 55.19 L53.98 56.53 L53.56 57.87 L53.17 59.22 L52.81 60.56 L52.47 61.90 L52.30 63.25 L52.17 64.61 L52.06 65.95 L51.96 67.29 L51.89 68.63 L51.83 69.96 L51.78 71.29 L51.74 72.62 L51.72 73.95 L51.70 75.27 L51.68 76.59 L51.68 77.91 L51.67 79.23 L51.66 80.55 L51.66 81.87 L51.65 83.19 L51.64 84.52 L51.63 85.84 L51.62 87.16 L51.61 88.48 L51.60 89.81 L51.59 91.13 L51.58 92.45 L51.57 93.78 L51.55 95.10 L51.54 96.43 L51.52 97.75 L51.50 99.08 L51.49 100.40 L51.47 101.73 L51.45 103.06 L51.43 104.38 L51.41 105.71 L51.39 107.04 L51.37 108.37 L51.35 109.69 L51.33 111.02 L51.31 112.35 L51.28 113.68 L51.26 115.01 L51.23 116.34 L51.21 117.67 L51.18 118.99 L51.16 120.32 L51.13 121.65 L51.10 122.98 L51.07 124.31 L51.05 125.64 L51.02 126.98 L50.99 128.31 L50.96 129.64 L50.93 130.97 L50.90 132.30 L50.86 133.63 L50.83 134.96 L50.80 136.29 L50.77 137.63 L50.73 138.96 L50.70 140.29 L50.67 141.62 L50.63 142.96 L50.60 144.29 L50.56 145.62 L50.53 146.95 L50.49 148.28 L50.45 149.62 L50.42 150.95 L50.38 152.28 L50.34 153.62 L50.30 154.95 L50.27 156.28 L50.23 157.61 L50.19 158.95 L50.15 160.28 L50.11 161.61 L50.07 162.95 L50.03 164.28 L49.99 165.61 L49.95 166.95 L49.91 168.28 L49.87 169.61 L49.83 170.94 L49.79 172.28 L49.74 173.61 L49.70 174.94 L49.66 176.27 L49.62 177.61 L49.58 178.94 L49.53 180.27 L49.49 181.60 L49.45 182.94 L49.41 184.27 L49.36 185.60 L49.32 186.93 L49.28 188.26 L49.23 189.60 L49.19 190.93 L49.15 192.26 L49.10 193.59 L49.06 194.92 L49.02 196.25 L48.97 197.58 L48.93 198.91 L48.88 200.24 L48.84 201.57 L48.80 202.90 L48.75 204.23 L48.71 205.56 L48.67 206.89 L48.62 208.22 L48.58 209.55 L48.53 210.88 L48.49 212.21 L48.45 213.53 L48.40 214.86 L48.36 216.19 L48.32 217.52 L48.27 218.84 L48.23 220.17 L48.19 221.50 L48.15 222.82 L48.10 224.15 L48.06 225.47 Z" fill="#22a05a" fill-opacity="0.20" stroke="none"/>
<path d="M47.57 225.41 L47.62 224.08 L47.67 222.74 L47.72 221.41 L47.76 220.07 L47.81 218.74 L47.86 217.40 L47.90 216.06 L47.95 214.72 L48.00 213.38 L48.04 212.04 L48.09 210.70 L48.14 209.36 L48.18 208.01 L48.23 206.67 L48.28 205.33 L48.32 203.98 L48.37 202.63 L48.42 201.29 L48.46 199.94 L48.51 198.59 L48.55 197.24 L48.60 195.89 L48.64 194.55 L48.69 193.20 L48.74 191.84 L48.78 190.49 L48.83 189.14 L48.87 187.79 L48.92 186.44 L48.96 185.08 L49.01 183.73 L49.05 182.38 L49.09 181.02 L49.14 179.67 L49.18 178.32 L49.23 176.96 L49.27 175.61 L49.32 174.25 L49.36 172.89 L49.40 171.54 L49.45 170.18 L49.49 168.83 L49.53 167.47 L49.58 166.11 L49.62 164.76 L49.66 163.40 L49.70 162.04 L49.75 160.69 L49.79 159.33 L49.83 157.97 L49.87 156.62 L49.91 155.26 L49.96 153.90 L50.00 152.55 L50.04 151.19 L50.08 149.83 L50.12 148.48 L50.16 147.12 L50.20 145.76 L50.24 144.41 L50.28 143.05 L50.32 141.70 L50.36 140.34 L50.40 138.99 L50.44 137.63 L50.48 136.28 L50.52 134.92 L50.56 133.57 L50.60 132.22 L50.64 130.86 L50.68 129.51 L50.71 128.16 L50.75 126.81 L50.79 125.45 L50.83 124.10 L50.87 122.75 L50.90 121.40 L50.94 120.05 L50.98 118.71 L51.01 117.36 L51.05 116.01 L51.09 114.66 L51.12 113.32 L51.16 111.97 L51.19 110.62 L51.23 109.28 L51.26 107.94 L51.30 106.59 L51.33 105.25 L51.37 103.91 L51.40 102.57 L51.44 101.23 L51.47 99.89 L51.50 98.55 L51.54 97.22 L51.57 95.88 L51.60 94.54 L51.63 93.21 L51.67 91.87 L51.70 90.54 L51.73 89.21 L51.76 87.88 L51.79 86.55 L51.82 85.22 L51.85 83.89 L51.88 82.57 L51.91 81.24 L51.94 79.92 L51.97 78.59 L52.00 77.27 L52.04 75.95 L52.07 74.62 L52.11 73.30 L52.15 71.97 L52.20 70.64 L52.25 69.30 L52.31 67.96 L52.37 66.61 L52.44 65.26 L52.52 63.90 L52.61 62.54 L52.58 61.16 L52.47 59.75 L52.37 58.34 L52.28 56.91 L52.20 55.46 L52.14 54.00 L52.08 52.53 L52.04 51.03 L52.00 49.51 L51.99 47.96 L52.00 46.39 L52.06 44.80 L52.18 43.19 L52.36 41.57 L52.63 39.92 L52.99 38.21 L53.61 36.49 L54.42 34.69 L55.44 32.74 L56.74 30.66 L58.41 28.58 L60.56 26.84 L63.13 25.89 L65.86 25.93 L68.40 26.47 L70.48 27.43 L72.12 28.62 L73.50 29.96 L74.72 31.39 L75.80 32.86 L76.77 34.32 L77.68 35.75 L78.54 37.14 L79.38 38.49 L80.20 39.80 L81.01 41.08 L81.82 42.35 L82.62 43.60 L83.42 44.84 L84.21 46.08 L84.99 47.32 L85.76 48.56 L86.52 49.80 L87.27 51.04 L88.01 52.28 L88.74 53.51 L89.45 54.75 L90.16 55.98 L90.85 57.21 L91.54 58.44 L92.22 59.67 L92.89 60.90 L93.55 62.13 L94.21 63.36 L94.86 64.59 L95.50 65.82 L96.14 67.04 L96.77 68.27 L97.39 69.49 L98.02 70.71 L98.64 71.93 L99.25 73.14 L99.86 74.35 L100.48 75.56 L101.09 76.77 L101.70 77.97 L102.31 79.17 L102.92 80.36 L103.53 81.55 L104.14 82.74 L104.76 83.92 L105.37 85.09 L105.99 86.26 L106.62 87.43 L107.25 88.59 L107.88 89.74 L108.53 90.89 L109.17 92.03 L109.83 93.16 L110.49 94.29 L111.15 95.41 L111.83 96.52 L112.52 97.63 L113.21 98.73 L113.92 99.82 L114.64 100.90 L115.36 101.98 L116.10 103.05 L116.85 104.12 L117.61 105.18 L118.38 106.23 L119.15 107.28 L119.94 108.32 L120.74 109.35 L121.55 110.38 L122.37 111.40 L123.19 112.42 L124.03 113.43 L124.87 114.43 L125.73 115.42 L126.59 116.41 L127.47 117.39 L128.35 118.37 L129.24 119.33 L130.14 120.29 L131.05 121.25 L131.96 122.20 L132.89 123.14 L133.82 124.07 L134.76 125.00 L135.71 125.92 L136.67 126.83 L137.63 127.73 L138.61 128.63 L139.59 129.52 L140.57 130.41 L141.57 131.29 L142.57 132.16 L143.58 133.02 L144.60 133.88 L145.62 134.72 L146.65 135.57 L147.69 136.40 L148.73 137.23 L149.78 138.05 L150.84 138.86 L151.90 139.66 L152.97 140.46 L154.05 141.25 L155.13 142.03 L156.22 142.80 L157.31 143.57 L158.41 144.33 L159.51 145.08 L160.62 145.83 L161.74 146.56 L162.86 147.29 L163.99 148.01 L165.12 148.73 L166.25 149.43 L167.39 150.13 L168.54 150.82 L169.69 151.50 L170.84 152.17 L172.00 152.84 L173.16 153.50 L174.33 154.15 L175.50 154.79 L176.67 155.43 L177.85 156.05 L179.03 156.67 L180.22 157.28 L181.41 157.88 L182.60 158.47 L183.80 159.06 L185.00 159.64 L186.20 160.21 L187.40 160.77 L188.61 161.32 L189.82 161.86 L191.04 162.40 L192.25 162.92 L193.47 163.44 L194.69 163.95 L195.91 164.45 L197.14 164.95 L198.36 165.43 L199.59 165.91 L200.82 166.38 L202.05 166.84 L203.29 167.29 L204.52 167.73 L205.76 168.16 L206.99 168.59 L208.23 169.00 L209.47 169.41 L210.71 169.81 L211.96 170.20 L210.01 176.40 L208.74 176.00 L207.46 175.59 L206.18 175.17 L204.90 174.74 L203.63 174.30 L202.35 173.85 L201.08 173.40 L199.80 172.93 L198.53 172.46 L197.26 171.98 L195.99 171.49 L194.73 170.99 L193.46 170.48 L192.20 169.96 L190.94 169.43 L189.69 168.90 L188.43 168.35 L187.18 167.80 L185.93 167.24 L184.68 166.67 L183.44 166.09 L182.20 165.50 L180.96 164.91 L179.73 164.30 L178.49 163.69 L177.27 163.07 L176.04 162.44 L174.82 161.80 L173.61 161.16 L172.39 160.50 L171.18 159.84 L169.98 159.17 L168.78 158.49 L167.58 157.80 L166.39 157.10 L165.20 156.40 L164.02 155.69 L162.84 154.96 L161.67 154.24 L160.50 153.50 L159.33 152.75 L158.18 152.00 L157.02 151.24 L155.88 150.47 L154.73 149.69 L153.60 148.91 L152.47 148.11 L151.34 147.31 L150.22 146.50 L149.11 145.68 L148.00 144.86 L146.90 144.03 L145.80 143.19 L144.72 142.34 L143.63 141.48 L142.56 140.62 L141.49 139.74 L140.43 138.86 L139.38 137.98 L138.33 137.08 L137.29 136.18 L136.26 135.27 L135.23 134.35 L134.21 133.42 L133.20 132.49 L132.20 131.55 L131.21 130.60 L130.22 129.65 L129.24 128.68 L128.27 127.71 L127.31 126.73 L126.36 125.75 L125.41 124.76 L124.47 123.75 L123.55 122.75 L122.63 121.73 L121.72 120.71 L120.82 119.68 L119.93 118.64 L119.05 117.60 L118.17 116.55 L117.31 115.49 L116.46 114.42 L115.61 113.35 L114.78 112.27 L113.95 111.18 L113.14 110.09 L112.34 108.99 L111.54 107.88 L110.76 106.76 L109.99 105.64 L109.23 104.51 L108.48 103.37 L107.74 102.23 L107.01 101.08 L106.29 99.93 L105.59 98.76 L104.89 97.60 L104.21 96.43 L103.53 95.25 L102.86 94.08 L102.20 92.89 L101.55 91.71 L100.90 90.52 L100.26 89.33 L99.63 88.13 L99.00 86.93 L98.37 85.73 L97.75 84.53 L97.13 83.33 L96.51 82.12 L95.90 80.91 L95.29 79.71 L94.68 78.50 L94.06 77.29 L93.45 76.08 L92.84 74.87 L92.22 73.66 L91.60 72.45 L90.98 71.24 L90.36 70.03 L89.73 68.83 L89.10 67.62 L88.46 66.42 L87.81 65.21 L87.16 64.01 L86.50 62.82 L85.84 61.62 L85.16 60.43 L84.48 59.24 L83.79 58.06 L83.08 56.87 L82.37 55.70 L81.64 54.54 L80.91 53.39 L80.16 52.27 L79.40 51.16 L78.63 50.09 L77.84 49.04 L77.04 48.03 L76.22 47.06 L75.38 46.13 L74.53 45.25 L73.66 44.42 L72.77 43.63 L71.87 42.90 L70.95 42.23 L70.01 41.61 L69.06 41.06 L68.09 40.56 L67.10 40.12 L66.13 39.75 L65.22 39.49 L64.43 39.35 L63.70 39.33 L62.99 39.40 L62.30 39.58 L61.67 39.84 L61.09 40.18 L60.57 40.62 L60.08 41.19 L59.56 41.89 L58.94 42.71 L58.34 43.68 L57.77 44.79 L57.23 46.01 L56.72 47.32 L56.24 48.68 L55.79 50.08 L55.37 51.49 L54.96 52.90 L54.56 54.29 L54.19 55.68 L53.83 57.07 L53.48 58.44 L53.15 59.81 L52.84 61.18 L52.61 62.54 L52.52 63.90 L52.44 65.26 L52.37 66.61 L52.31 67.96 L52.25 69.30 L52.20 70.64 L52.15 71.97 L52.11 73.30 L52.07 74.62 L52.04 75.95 L52.00 77.27 L51.97 78.59 L51.94 79.92 L51.91 81.24 L51.88 82.57 L51.85 83.89 L51.82 85.22 L51.79 86.55 L51.76 87.88 L51.73 89.21 L51.70 90.54 L51.67 91.87 L51.63 93.21 L51.60 94.54 L51.57 95.88 L51.54 97.22 L51.50 98.55 L51.47 99.89 L51.44 101.23 L51.40 102.57 L51.37 103.91 L51.33 105.25 L51.30 106.59 L51.26 107.94 L51.23 109.28 L51.19 110.62 L51.16 111.97 L51.12 113.32 L51.09 114.66 L51.05 116.01 L51.01 117.36 L50.98 118.71 L50.94 120.05 L50.90 121.40 L50.87 122.75 L50.83 124.10 L50.79 125.45 L50.75 126.81 L50.71 128.16 L50.68 129.51 L50.64 130.86 L50.60 132.22 L50.56 133.57 L50.52 134.92 L50.48 136.28 L50.44 137.63 L50.40 138.99 L50.36 140.34 L50.32 141.70 L50.28 143.05 L50.24 144.41 L50.20 145.76 L50.16 147.12 L50.12 148.48 L50.08 149.83 L50.04 151.19 L50.00 152.55 L49.96 153.90 L49.91 155.26 L49.87 156.62 L49.83 157.97 L49.79 159.33 L49.75 160.69 L49.70 162.04 L49.66 163.40 L49.62 164.76 L49.58 166.11 L49.53 167.47 L49.49 168.83 L49.45 170.18 L49.40 171.54 L49.36 172.89 L49.32 174.25 L49.27 175.61 L49.23 176.96 L49.18 178.32 L49.14 179.67 L49.09 181.02 L49.05 182.38 L49.01 183.73 L48.96 185.08 L48.92 186.44 L48.87 187.79 L48.83 189.14 L48.78 190.49 L48.74 191.84 L48.69 193.20 L48.64 194.55 L48.60 195.89 L48.55 197.24 L48.51 198.59 L48.46 199.94 L48.42 201.29 L48.37 202.63 L48.32 203.98 L48.28 205.33 L48.23 206.67 L48.18 208.01 L48.14 209.36 L48.09 210.70 L48.04 212.04 L48.00 213.38 L47.95 214.72 L47.90 216.06 L47.86 217.40 L47.81 218.74 L47.76 220.07 L47.72 221.41 L47.67 222.74 L47.62 224.08 L47.57 225.41 Z" fill="#1f6be0" fill-opacity="0.21" stroke="none"/>
<path d="M47.51 225.70 L47.57 224.32 L47.63 222.95 L47.68 221.57 L47.74 220.20 L47.79 218.83 L47.85 217.47 L47.90 216.10 L47.96 214.73 L48.01 213.37 L48.06 212.01 L48.12 210.65 L48.17 209.29 L48.22 207.93 L48.27 206.57 L48.32 205.22 L48.37 203.86 L48.42 202.51 L48.47 201.16 L48.52 199.81 L48.57 198.46 L48.62 197.11 L48.67 195.76 L48.72 194.41 L48.77 193.07 L48.81 191.72 L48.86 190.38 L48.91 189.04 L48.96 187.69 L49.00 186.35 L49.05 185.01 L49.10 183.67 L49.14 182.33 L49.19 181.00 L49.23 179.66 L49.28 178.32 L49.32 176.99 L49.37 175.65 L49.41 174.32 L49.46 172.98 L49.50 171.65 L49.55 170.31 L49.59 168.98 L49.63 167.65 L49.68 166.32 L49.72 164.98 L49.76 163.65 L49.81 162.32 L49.85 160.99 L49.89 159.66 L49.94 158.33 L49.98 157.00 L50.02 155.67 L50.06 154.34 L50.11 153.01 L50.15 151.68 L50.19 150.35 L50.23 149.02 L50.27 147.69 L50.32 146.36 L50.36 145.03 L50.40 143.70 L50.44 142.37 L50.49 141.04 L50.53 139.71 L50.57 138.38 L50.61 137.05 L50.65 135.72 L50.70 134.39 L50.74 133.06 L50.78 131.72 L50.82 130.39 L50.87 129.06 L50.91 127.72 L50.95 126.39 L50.99 125.06 L51.04 123.72 L51.08 122.38 L51.12 121.05 L51.16 119.71 L51.21 118.37 L51.25 117.03 L51.29 115.70 L51.34 114.36 L51.38 113.01 L51.42 111.67 L51.47 110.33 L51.51 108.99 L51.56 107.64 L51.60 106.30 L51.65 104.95 L51.69 103.60 L51.74 102.26 L51.78 100.91 L51.83 99.56 L51.87 98.21 L51.92 96.85 L51.96 95.50 L52.01 94.14 L52.06 92.79 L52.11 91.43 L52.15 90.07 L52.20 88.71 L52.25 87.35 L52.30 85.99 L52.34 84.62 L52.39 83.26 L52.44 81.89 L52.49 80.52 L52.54 79.15 L52.59 77.78 L52.64 76.40 L52.69 75.03 L52.74 73.65 L52.80 72.27 L52.85 70.89 L52.90 69.51 L52.95 68.13 L53.01 66.74 L53.06 65.35 L53.11 63.96 L53.17 62.57 L53.11 61.17 L52.98 59.77 L52.84 58.37 L52.72 56.96 L52.61 55.56 L52.51 54.15 L52.43 52.74 L52.38 51.34 L52.34 49.93 L52.34 48.52 L52.36 47.11 L52.41 45.69 L52.48 44.25 L52.59 42.80 L52.73 41.31 L52.90 39.79 L53.10 38.20 L53.49 36.64 L54.00 35.05 L54.59 33.42 L55.30 31.76 L56.18 30.08 L57.41 28.39 L59.26 26.75 L62.05 25.48 L65.69 25.03 L69.05 25.66 L71.24 26.70 L72.69 27.68 L73.92 28.71 L75.08 29.81 L76.16 30.96 L77.18 32.15 L78.15 33.35 L79.09 34.55 L79.99 35.74 L80.87 36.93 L81.74 38.09 L82.60 39.24 L83.44 40.38 L84.28 41.50 L85.12 42.62 L85.94 43.72 L86.77 44.83 L87.59 45.93 L88.40 47.03 L89.20 48.13 L90.00 49.24 L90.79 50.35 L91.57 51.47 L92.34 52.59 L93.10 53.72 L93.86 54.86 L94.60 56.01 L95.34 57.16 L96.06 58.32 L96.78 59.49 L97.49 60.66 L98.20 61.84 L98.90 63.02 L99.59 64.21 L100.28 65.40 L100.96 66.59 L101.64 67.78 L102.31 68.98 L102.99 70.17 L103.66 71.37 L104.33 72.57 L105.00 73.76 L105.67 74.95 L106.35 76.14 L107.02 77.33 L107.70 78.51 L108.38 79.69 L109.07 80.86 L109.76 82.02 L110.46 83.19 L111.16 84.34 L111.87 85.49 L112.58 86.64 L113.30 87.78 L114.03 88.91 L114.76 90.05 L115.50 91.17 L116.25 92.29 L117.00 93.40 L117.75 94.51 L118.51 95.62 L119.28 96.72 L120.06 97.81 L120.84 98.89 L121.62 99.98 L122.42 101.05 L123.21 102.12 L124.02 103.18 L124.83 104.24 L125.64 105.29 L126.47 106.34 L127.30 107.38 L128.13 108.41 L128.97 109.44 L129.82 110.46 L130.67 111.48 L131.53 112.49 L132.39 113.49 L133.26 114.48 L134.14 115.47 L135.02 116.46 L135.91 117.43 L136.80 118.40 L137.70 119.37 L138.61 120.32 L139.52 121.27 L140.44 122.21 L141.36 123.15 L142.29 124.08 L143.23 125.00 L144.17 125.91 L145.12 126.82 L146.08 127.72 L147.04 128.62 L148.00 129.50 L148.98 130.38 L149.95 131.25 L150.94 132.11 L151.93 132.97 L152.93 133.82 L153.93 134.66 L154.94 135.50 L155.96 136.32 L156.98 137.14 L158.01 137.95 L159.04 138.75 L160.08 139.55 L161.13 140.33 L162.18 141.11 L163.24 141.88 L164.30 142.65 L165.37 143.40 L166.45 144.15 L167.53 144.89 L168.62 145.62 L169.72 146.34 L170.82 147.05 L171.93 147.76 L173.04 148.45 L174.16 149.14 L175.29 149.82 L176.42 150.49 L177.56 151.15 L178.71 151.80 L179.86 152.45 L181.01 153.08 L182.18 153.71 L183.35 154.33 L184.52 154.94 L185.71 155.53 L186.90 156.12 L188.09 156.71 L189.29 157.28 L190.50 157.84 L191.71 158.39 L192.93 158.94 L194.16 159.47 L195.39 160.00 L196.63 160.51 L197.88 161.02 L199.13 161.52 L200.39 162.00 L201.65 162.48 L202.92 162.95 L204.20 163.40 L205.49 163.85 L206.78 164.29 L208.07 164.72 L209.38 165.13 L210.69 165.54 L212.01 165.94 L210.57 170.73 L209.22 170.32 L207.87 169.90 L206.53 169.47 L205.19 169.03 L203.86 168.58 L202.54 168.12 L201.22 167.65 L199.91 167.16 L198.61 166.67 L197.31 166.17 L196.02 165.66 L194.73 165.14 L193.45 164.61 L192.18 164.06 L190.92 163.51 L189.66 162.95 L188.41 162.38 L187.16 161.80 L185.92 161.21 L184.69 160.61 L183.46 160.00 L182.25 159.39 L181.03 158.76 L179.83 158.12 L178.63 157.48 L177.43 156.82 L176.25 156.16 L175.07 155.48 L173.89 154.80 L172.72 154.11 L171.56 153.41 L170.41 152.70 L169.26 151.98 L168.12 151.26 L166.98 150.52 L165.86 149.78 L164.73 149.03 L163.62 148.27 L162.51 147.50 L161.41 146.72 L160.31 145.94 L159.22 145.14 L158.14 144.34 L157.06 143.53 L155.99 142.71 L154.93 141.89 L153.87 141.05 L152.82 140.21 L151.77 139.36 L150.73 138.50 L149.70 137.64 L148.68 136.77 L147.66 135.89 L146.64 135.00 L145.64 134.10 L144.64 133.20 L143.64 132.29 L142.66 131.37 L141.68 130.45 L140.70 129.51 L139.73 128.58 L138.77 127.63 L137.82 126.68 L136.87 125.71 L135.93 124.75 L134.99 123.77 L134.06 122.79 L133.14 121.80 L132.22 120.81 L131.31 119.81 L130.40 118.80 L129.51 117.79 L128.61 116.77 L127.73 115.74 L126.85 114.70 L125.98 113.66 L125.11 112.62 L124.25 111.57 L123.39 110.51 L122.55 109.44 L121.70 108.37 L120.87 107.29 L120.04 106.21 L119.22 105.12 L118.40 104.03 L117.59 102.93 L116.79 101.82 L115.99 100.71 L115.20 99.59 L114.41 98.47 L113.63 97.34 L112.86 96.21 L112.09 95.07 L111.33 93.93 L110.57 92.78 L109.83 91.62 L109.08 90.46 L108.35 89.30 L107.62 88.13 L106.89 86.95 L106.18 85.77 L105.47 84.59 L104.76 83.40 L104.06 82.20 L103.37 81.01 L102.68 79.81 L102.00 78.61 L101.32 77.41 L100.64 76.21 L99.97 75.02 L99.30 73.82 L98.63 72.63 L97.96 71.44 L97.29 70.25 L96.61 69.07 L95.94 67.90 L95.26 66.73 L94.58 65.57 L93.89 64.41 L93.20 63.26 L92.51 62.13 L91.80 61.00 L91.09 59.88 L90.38 58.78 L89.65 57.69 L88.91 56.60 L88.17 55.54 L87.41 54.49 L86.64 53.45 L85.86 52.43 L85.07 51.42 L84.26 50.43 L83.44 49.46 L82.60 48.51 L81.74 47.58 L80.87 46.67 L79.99 45.79 L79.08 44.92 L78.15 44.08 L77.21 43.26 L76.24 42.46 L75.26 41.70 L74.25 40.95 L73.22 40.23 L72.17 39.54 L71.10 38.88 L70.00 38.24 L68.89 37.62 L67.75 37.03 L66.63 36.49 L65.75 36.12 L65.31 36.02 L65.01 36.08 L64.49 36.32 L63.76 36.80 L62.95 37.48 L62.16 38.23 L61.43 39.04 L60.77 39.88 L60.16 40.77 L59.56 41.67 L58.93 42.59 L58.33 43.56 L57.77 44.58 L57.26 45.66 L56.78 46.78 L56.33 47.95 L55.92 49.16 L55.55 50.41 L55.20 51.69 L54.88 52.99 L54.58 54.32 L54.31 55.67 L54.05 57.04 L53.80 58.41 L53.56 59.80 L53.33 61.18 L53.17 62.57 L53.11 63.96 L53.06 65.35 L53.01 66.74 L52.95 68.13 L52.90 69.51 L52.85 70.89 L52.80 72.27 L52.74 73.65 L52.69 75.03 L52.64 76.40 L52.59 77.78 L52.54 79.15 L52.49 80.52 L52.44 81.89 L52.39 83.26 L52.34 84.62 L52.30 85.99 L52.25 87.35 L52.20 88.71 L52.15 90.07 L52.11 91.43 L52.06 92.79 L52.01 94.14 L51.96 95.50 L51.92 96.85 L51.87 98.21 L51.83 99.56 L51.78 100.91 L51.74 102.26 L51.69 103.60 L51.65 104.95 L51.60 106.30 L51.56 107.64 L51.51 108.99 L51.47 110.33 L51.42 111.67 L51.38 113.01 L51.34 114.36 L51.29 115.70 L51.25 117.03 L51.21 118.37 L51.16 119.71 L51.12 121.05 L51.08 122.38 L51.04 123.72 L50.99 125.06 L50.95 126.39 L50.91 127.72 L50.87 129.06 L50.82 130.39 L50.78 131.72 L50.74 133.06 L50.70 134.39 L50.65 135.72 L50.61 137.05 L50.57 138.38 L50.53 139.71 L50.49 141.04 L50.44 142.37 L50.40 143.70 L50.36 145.03 L50.32 146.36 L50.27 147.69 L50.23 149.02 L50.19 150.35 L50.15 151.68 L50.11 153.01 L50.06 154.34 L50.02 155.67 L49.98 157.00 L49.94 158.33 L49.89 159.66 L49.85 160.99 L49.81 162.32 L49.76 163.65 L49.72 164.98 L49.68 166.32 L49.63 167.65 L49.59 168.98 L49.55 170.31 L49.50 171.65 L49.46 172.98 L49.41 174.32 L49.37 175.65 L49.32 176.99 L49.28 178.32 L49.23 179.66 L49.19 181.00 L49.14 182.33 L49.10 183.67 L49.05 185.01 L49.00 186.35 L48.96 187.69 L48.91 189.04 L48.86 190.38 L48.81 191.72 L48.77 193.07 L48.72 194.41 L48.67 195.76 L48.62 197.11 L48.57 198.46 L48.52 199.81 L48.47 201.16 L48.42 202.51 L48.37 203.86 L48.32 205.22 L48.27 206.57 L48.22 207.93 L48.17 209.29 L48.12 210.65 L48.06 212.01 L48.01 213.37 L47.96 214.73 L47.90 216.10 L47.85 217.47 L47.79 218.83 L47.74 220.20 L47.68 221.57 L47.63 222.95 L47.57 224.32 L47.51 225.70 Z" fill="#ec3338" fill-opacity="0.17" stroke="none"/>
<path d="M47.65 225.57 L47.66 224.70 L47.66 223.82 L47.67 222.94 L47.67 222.07 L47.68 221.19 L47.69 220.32 L47.70 219.45 L47.71 218.58 L47.72 217.71 L47.73 216.84 L47.75 215.97 L47.76 215.10 L47.78 214.23 L47.79 213.37 L47.81 212.50 L47.83 211.64 L47.85 210.77 L47.87 209.91 L47.89 209.05 L47.91 208.19 L47.94 207.32 L47.96 206.46 L47.99 205.60 L48.02 204.74 L48.05 203.89 L48.08 203.03 L48.11 202.17 L48.14 201.31 L48.18 200.46 L48.21 199.60 L48.25 198.74 L48.29 197.89 L48.33 197.03 L48.37 196.18 L48.42 195.33 L48.46 194.47 L48.51 193.62 L48.56 192.77 L48.61 191.91 L48.66 191.06 L48.72 190.21 L48.77 189.36 L48.83 188.51 L48.89 187.66 L48.95 186.81 L49.02 185.96 L49.08 185.11 L49.15 184.26 L49.22 183.41 L49.29 182.56 L49.36 181.71 L49.43 180.86 L49.51 180.01 L49.59 179.16 L49.67 178.31 L49.75 177.46 L49.84 176.61 L49.93 175.77 L50.02 174.92 L50.11 174.07 L50.20 173.22 L50.30 172.37 L50.40 171.52 L50.50 170.67 L50.60 169.82 L50.71 168.97 L50.82 168.12 L50.93 167.28 L51.04 166.43 L51.15 165.58 L51.27 164.73 L51.39 163.88 L51.51 163.03 L51.64 162.17 L51.77 161.32 L51.90 160.47 L52.03 159.62 L52.17 158.77 L52.31 157.92 L52.45 157.06 L52.59 156.21 L52.74 155.36 L52.89 154.50 L53.04 153.65 L53.20 152.80 L53.35 151.94 L53.51 151.09 L53.68 150.23 L53.84 149.37 L54.01 148.52 L54.19 147.66 L54.36 146.80 L54.54 145.94 L54.72 145.08 L54.91 144.22 L55.10 143.37 L55.30 142.51 L55.50 141.65 L55.70 140.80 L55.92 139.94 L56.14 139.09 L56.37 138.24 L56.60 137.40 L56.85 136.56 L57.11 135.72 L57.37 134.88 L57.65 134.06 L57.93 133.23 L58.23 132.41 L58.54 131.60 L58.87 130.80 L59.21 130.00 L59.56 129.22 L59.94 128.46 L60.33 127.71 L60.74 126.98 L61.18 126.27 L61.63 125.58 L62.11 124.92 L62.62 124.29 L63.15 123.69 L63.70 123.12 L64.28 122.58 L64.89 122.07 L65.51 121.59 L66.16 121.15 L66.83 120.74 L67.52 120.37 L68.24 120.03 L68.97 119.72 L69.72 119.45 L70.48 119.21 L71.27 119.00 L72.07 118.81 L72.88 118.66 L73.71 118.53 L74.55 118.42 L75.40 118.34 L76.26 118.28 L77.13 118.25 L78.00 118.23 L78.89 118.23 L79.78 118.25 L80.68 118.28 L81.58 118.33 L82.48 118.40 L83.38 118.47 L84.29 118.56 L85.20 118.66 L86.10 118.76 L87.00 118.88 L87.90 119.00 L88.80 119.12 L89.69 119.25 L90.57 119.39 L91.46 119.53 L92.34 119.67 L93.21 119.82 L94.08 119.98 L94.95 120.14 L95.82 120.30 L96.68 120.46 L97.54 120.63 L98.39 120.81 L99.24 120.98 L100.09 121.17 L100.94 121.35 L101.78 121.54 L102.62 121.73 L103.46 121.93 L104.30 122.12 L105.13 122.33 L105.96 122.53 L106.79 122.74 L107.62 122.95 L108.45 123.16 L109.27 123.37 L110.09 123.59 L110.91 123.81 L111.73 124.03 L112.55 124.25 L113.37 124.48 L114.18 124.71 L115.00 124.94 L115.81 125.17 L116.62 125.40 L117.44 125.63 L118.25 125.87 L119.06 126.10 L119.87 126.34 L120.68 126.58 L121.49 126.82 L122.30 127.06 L123.11 127.30 L123.93 127.54 L124.74 127.78 L125.55 128.03 L126.36 128.27 L127.17 128.51 L127.99 128.76 L128.80 129.00 L129.61 129.24 L130.43 129.48 L131.25 129.73 L132.06 129.97 L132.88 130.21 L133.70 130.45 L134.52 130.70 L135.34 130.94 L136.16 131.18 L136.98 131.42 L137.80 131.66 L138.62 131.90 L139.45 132.14 L140.27 132.39 L141.09 132.62 L141.92 132.86 L142.74 133.10 L143.57 133.34 L144.40 133.58 L145.22 133.82 L146.05 134.05 L146.88 134.29 L147.71 134.52 L148.54 134.76 L149.37 134.99 L150.20 135.23 L151.03 135.46 L151.86 135.69 L152.69 135.92 L153.52 136.15 L154.35 136.38 L155.19 136.61 L156.02 136.84 L156.85 137.06 L157.69 137.29 L158.52 137.51 L159.36 137.73 L160.19 137.96 L161.03 138.18 L161.86 138.40 L162.70 138.62 L163.54 138.83 L164.38 139.05 L165.21 139.27 L166.05 139.48 L166.89 139.69 L167.73 139.90 L168.57 140.11 L169.41 140.32 L170.24 140.53 L171.08 140.74 L171.92 140.94 L172.76 141.14 L173.60 141.34 L174.44 141.54 L175.29 141.74 L176.13 141.94 L176.97 142.13 L177.81 142.33 L178.65 142.52 L179.49 142.71 L180.33 142.89 L181.18 143.08 L182.02 143.26 L182.86 143.45 L183.70 143.63 L184.54 143.81 L185.39 143.98 L186.23 144.16 L187.07 144.33 L187.92 144.50 L188.76 144.67 L189.60 144.84 L190.44 145.00 L191.29 145.16 L192.13 145.32 L192.97 145.48 L193.82 145.64 L194.66 145.79 L195.50 145.94 L196.35 146.09 L197.19 146.24 L198.03 146.38 L198.87 146.53 L199.72 146.67 L200.56 146.80 L201.40 146.94 L202.25 147.07 L203.09 147.20 L203.93 147.33 L204.77 147.45 L205.61 147.57 L206.46 147.69 L207.30 147.81 L208.14 147.92 L208.98 148.03 L209.82 148.14 L210.66 148.25" fill="none" stroke="#444444" stroke-width="1.5"/>
<path d="M47.51 225.70 L47.57 224.32 L47.63 222.95 L47.68 221.57 L47.74 220.20 L47.79 218.83 L47.85 217.47 L47.90 216.10 L47.96 214.73 L48.01 213.37 L48.06 212.01 L48.12 210.65 L48.17 209.29 L48.22 207.93 L48.27 206.57 L48.32 205.22 L48.37 203.86 L48.42 202.51 L48.47 201.16 L48.52 199.81 L48.57 198.46 L48.62 197.11 L48.67 195.76 L48.72 194.41 L48.77 193.07 L48.81 191.72 L48.86 190.38 L48.91 189.04 L48.96 187.69 L49.00 186.35 L49.05 185.01 L49.10 183.67 L49.14 182.33 L49.19 181.00 L49.23 179.66 L49.28 178.32 L49.32 176.99 L49.37 175.65 L49.41 174.32 L49.46 172.98 L49.50 171.65 L49.55 170.31 L49.59 168.98 L49.63 167.65 L49.68 166.32 L49.72 164.98 L49.76 163.65 L49.81 162.32 L49.85 160.99 L49.89 159.66 L49.94 158.33 L49.98 157.00 L50.02 155.67 L50.06 154.34 L50.11 153.01 L50.15 151.68 L50.19 150.35 L50.23 149.02 L50.27 147.69 L50.32 146.36 L50.36 145.03 L50.40 143.70 L50.44 142.37 L50.49 141.04 L50.53 139.71 L50.57 138.38 L50.61 137.05 L50.65 135.72 L50.70 134.39 L50.74 133.06 L50.78 131.72 L50.82 130.39 L50.87 129.06 L50.91 127.72 L50.95 126.39 L50.99 125.06 L51.04 123.72 L51.08 122.38 L51.12 121.05 L51.16 119.71 L51.21 118.37 L51.25 117.03 L51.29 115.70 L51.34 114.36 L51.38 113.01 L51.42 111.67 L51.47 110.33 L51.51 108.99 L51.56 107.64 L51.60 106.30 L51.65 104.95 L51.69 103.60 L51.74 102.26 L51.78 100.91 L51.83 99.56 L51.87 98.21 L51.92 96.85 L51.96 95.50 L52.01 94.14 L52.06 92.79 L52.11 91.43 L52.15 90.07 L52.20 88.71 L52.25 87.35 L52.30 85.99 L52.34 84.62 L52.39 83.26 L52.44 81.89 L52.49 80.52 L52.54 79.15 L52.59 77.78 L52.64 76.40 L52.69 75.03 L52.74 73.65 L52.80 72.27 L52.85 70.89 L52.90 69.51 L52.95 68.13 L53.01 66.74 L53.06 65.35 L53.11 63.96 L53.17 62.57 L53.22 61.18 L53.28 59.78 L53.34 58.39 L53.41 57.00 L53.50 55.62 L53.60 54.24 L53.73 52.88 L53.88 51.52 L54.06 50.19 L54.27 48.87 L54.53 47.57 L54.82 46.29 L55.16 45.04 L55.55 43.81 L55.99 42.62 L56.49 41.46 L57.06 40.33 L57.68 39.23 L58.38 38.18 L59.16 37.17 L60.01 36.20 L60.94 35.28 L61.96 34.42 L63.05 33.69 L64.21 33.19 L65.41 33.03 L66.65 33.27 L67.89 33.81 L69.12 34.44 L70.32 35.09 L71.49 35.77 L72.63 36.48 L73.75 37.22 L74.84 37.98 L75.90 38.76 L76.95 39.57 L77.97 40.41 L78.96 41.26 L79.94 42.14 L80.89 43.03 L81.83 43.95 L82.74 44.89 L83.64 45.84 L84.52 46.82 L85.38 47.81 L86.22 48.82 L87.05 49.84 L87.86 50.88 L88.66 51.94 L89.45 53.01 L90.22 54.09 L90.98 55.18 L91.73 56.29 L92.47 57.40 L93.20 58.53 L93.93 59.67 L94.64 60.81 L95.34 61.97 L96.04 63.13 L96.74 64.29 L97.42 65.47 L98.11 66.65 L98.78 67.83 L99.46 69.02 L100.13 70.21 L100.81 71.40 L101.48 72.60 L102.15 73.79 L102.82 74.99 L103.50 76.18 L104.17 77.38 L104.85 78.57 L105.53 79.76 L106.22 80.95 L106.91 82.13 L107.61 83.31 L108.32 84.48 L109.03 85.65 L109.74 86.81 L110.47 87.97 L111.19 89.12 L111.93 90.27 L112.67 91.41 L113.42 92.55 L114.17 93.68 L114.93 94.81 L115.69 95.93 L116.46 97.04 L117.24 98.15 L118.02 99.26 L118.81 100.36 L119.61 101.45 L120.41 102.54 L121.22 103.62 L122.03 104.70 L122.85 105.77 L123.67 106.83 L124.51 107.89 L125.34 108.94 L126.19 109.99 L127.04 111.03 L127.90 112.06 L128.76 113.09 L129.63 114.11 L130.50 115.13 L131.38 116.14 L132.27 117.14 L133.16 118.13 L134.06 119.12 L134.97 120.10 L135.88 121.08 L136.80 122.05 L137.72 123.01 L138.65 123.96 L139.59 124.91 L140.53 125.85 L141.48 126.79 L142.44 127.71 L143.40 128.63 L144.37 129.55 L145.34 130.45 L146.32 131.35 L147.31 132.24 L148.30 133.12 L149.30 134.00 L150.30 134.87 L151.32 135.73 L152.33 136.58 L153.36 137.43 L154.39 138.27 L155.42 139.10 L156.47 139.92 L157.52 140.73 L158.57 141.54 L159.63 142.34 L160.70 143.13 L161.77 143.91 L162.85 144.68 L163.94 145.45 L165.03 146.21 L166.13 146.96 L167.24 147.70 L168.35 148.43 L169.47 149.15 L170.59 149.87 L171.73 150.58 L172.86 151.27 L174.01 151.96 L175.16 152.65 L176.31 153.32 L177.48 153.98 L178.64 154.63 L179.82 155.28 L181.00 155.92 L182.19 156.54 L183.38 157.16 L184.59 157.77 L185.79 158.37 L187.01 158.96 L188.23 159.54 L189.45 160.11 L190.69 160.67 L191.93 161.23 L193.17 161.77 L194.42 162.30 L195.68 162.83 L196.95 163.34 L198.22 163.84 L199.50 164.34 L200.78 164.82 L202.07 165.30 L203.37 165.76 L204.67 166.21 L205.98 166.66 L207.30 167.09 L208.62 167.52 L209.95 167.93 L211.29 168.33" fill="none" stroke="#ec3338" stroke-width="1.8" stroke-linejoin="round"/>
<path d="M47.57 225.41 L47.62 224.08 L47.67 222.74 L47.72 221.41 L47.76 220.07 L47.81 218.74 L47.86 217.40 L47.90 216.06 L47.95 214.72 L48.00 213.38 L48.04 212.04 L48.09 210.70 L48.14 209.36 L48.18 208.01 L48.23 206.67 L48.28 205.33 L48.32 203.98 L48.37 202.63 L48.42 201.29 L48.46 199.94 L48.51 198.59 L48.55 197.24 L48.60 195.89 L48.64 194.55 L48.69 193.20 L48.74 191.84 L48.78 190.49 L48.83 189.14 L48.87 187.79 L48.92 186.44 L48.96 185.08 L49.01 183.73 L49.05 182.38 L49.09 181.02 L49.14 179.67 L49.18 178.32 L49.23 176.96 L49.27 175.61 L49.32 174.25 L49.36 172.89 L49.40 171.54 L49.45 170.18 L49.49 168.83 L49.53 167.47 L49.58 166.11 L49.62 164.76 L49.66 163.40 L49.70 162.04 L49.75 160.69 L49.79 159.33 L49.83 157.97 L49.87 156.62 L49.91 155.26 L49.96 153.90 L50.00 152.55 L50.04 151.19 L50.08 149.83 L50.12 148.48 L50.16 147.12 L50.20 145.76 L50.24 144.41 L50.28 143.05 L50.32 141.70 L50.36 140.34 L50.40 138.99 L50.44 137.63 L50.48 136.28 L50.52 134.92 L50.56 133.57 L50.60 132.22 L50.64 130.86 L50.68 129.51 L50.71 128.16 L50.75 126.81 L50.79 125.45 L50.83 124.10 L50.87 122.75 L50.90 121.40 L50.94 120.05 L50.98 118.71 L51.01 117.36 L51.05 116.01 L51.09 114.66 L51.12 113.32 L51.16 111.97 L51.19 110.62 L51.23 109.28 L51.26 107.94 L51.30 106.59 L51.33 105.25 L51.37 103.91 L51.40 102.57 L51.44 101.23 L51.47 99.89 L51.50 98.55 L51.54 97.22 L51.57 95.88 L51.60 94.54 L51.63 93.21 L51.67 91.87 L51.70 90.54 L51.73 89.21 L51.76 87.88 L51.79 86.55 L51.82 85.22 L51.85 83.89 L51.88 82.57 L51.91 81.24 L51.94 79.92 L51.97 78.59 L52.00 77.27 L52.04 75.95 L52.07 74.62 L52.11 73.30 L52.15 71.97 L52.20 70.64 L52.25 69.30 L52.31 67.96 L52.37 66.61 L52.44 65.26 L52.52 63.90 L52.61 62.54 L52.72 61.17 L52.83 59.78 L52.95 58.39 L53.09 56.99 L53.24 55.58 L53.40 54.16 L53.58 52.72 L53.77 51.27 L53.99 49.81 L54.22 48.34 L54.48 46.88 L54.79 45.44 L55.15 44.04 L55.57 42.70 L56.07 41.44 L56.65 40.26 L57.33 39.19 L58.11 38.25 L59.01 37.44 L60.03 36.79 L61.14 36.30 L62.32 35.98 L63.55 35.83 L64.80 35.87 L66.05 36.10 L67.28 36.48 L68.48 36.96 L69.65 37.51 L70.77 38.13 L71.87 38.81 L72.92 39.55 L73.95 40.34 L74.94 41.19 L75.91 42.08 L76.84 43.02 L77.76 44.00 L78.64 45.02 L79.50 46.08 L80.34 47.16 L81.16 48.27 L81.95 49.41 L82.73 50.56 L83.50 51.74 L84.24 52.92 L84.98 54.12 L85.70 55.32 L86.41 56.52 L87.11 57.73 L87.80 58.94 L88.48 60.15 L89.15 61.36 L89.81 62.57 L90.47 63.79 L91.12 65.00 L91.76 66.22 L92.40 67.44 L93.03 68.65 L93.65 69.87 L94.28 71.08 L94.90 72.30 L95.51 73.51 L96.13 74.72 L96.74 75.93 L97.35 77.14 L97.96 78.35 L98.58 79.56 L99.19 80.76 L99.80 81.96 L100.42 83.16 L101.03 84.35 L101.65 85.54 L102.28 86.73 L102.91 87.91 L103.54 89.09 L104.18 90.27 L104.82 91.44 L105.47 92.60 L106.13 93.77 L106.80 94.92 L107.47 96.07 L108.16 97.22 L108.85 98.35 L109.55 99.49 L110.26 100.61 L110.99 101.73 L111.72 102.84 L112.47 103.95 L113.23 105.05 L113.99 106.14 L114.77 107.23 L115.56 108.31 L116.35 109.38 L117.16 110.45 L117.98 111.51 L118.81 112.56 L119.64 113.60 L120.49 114.64 L121.35 115.67 L122.21 116.70 L123.09 117.71 L123.97 118.72 L124.86 119.73 L125.76 120.72 L126.67 121.71 L127.59 122.70 L128.52 123.67 L129.46 124.64 L130.40 125.60 L131.35 126.55 L132.32 127.50 L133.29 128.44 L134.26 129.37 L135.25 130.30 L136.24 131.21 L137.24 132.12 L138.25 133.03 L139.26 133.92 L140.29 134.81 L141.32 135.69 L142.35 136.56 L143.40 137.43 L144.45 138.29 L145.51 139.14 L146.57 139.98 L147.64 140.81 L148.72 141.64 L149.80 142.46 L150.89 143.27 L151.99 144.08 L153.09 144.87 L154.20 145.66 L155.31 146.44 L156.43 147.22 L157.55 147.98 L158.68 148.74 L159.82 149.49 L160.96 150.23 L162.11 150.97 L163.26 151.69 L164.41 152.41 L165.58 153.12 L166.74 153.82 L167.91 154.52 L169.09 155.20 L170.26 155.88 L171.45 156.55 L172.63 157.21 L173.83 157.87 L175.02 158.51 L176.22 159.15 L177.42 159.78 L178.63 160.40 L179.84 161.01 L181.05 161.61 L182.27 162.21 L183.49 162.80 L184.71 163.37 L185.94 163.94 L187.17 164.51 L188.40 165.06 L189.63 165.60 L190.87 166.14 L192.11 166.67 L193.35 167.19 L194.59 167.70 L195.84 168.20 L197.09 168.69 L198.34 169.18 L199.59 169.65 L200.84 170.12 L202.10 170.58 L203.35 171.03 L204.61 171.47 L205.87 171.90 L207.13 172.32 L208.39 172.74 L209.65 173.14 L210.91 173.54" fill="none" stroke="#1f6be0" stroke-width="1.8" stroke-linejoin="round"/>
<path d="M48.06 225.47 L48.10 224.15 L48.15 222.82 L48.19 221.50 L48.23 220.17 L48.27 218.84 L48.32 217.52 L48.36 216.19 L48.40 214.86 L48.45 213.53 L48.49 212.21 L48.53 210.88 L48.58 209.55 L48.62 208.22 L48.67 206.89 L48.71 205.56 L48.75 204.23 L48.80 202.90 L48.84 201.57 L48.88 200.24 L48.93 198.91 L48.97 197.58 L49.02 196.25 L49.06 194.92 L49.10 193.59 L49.15 192.26 L49.19 190.93 L49.23 189.60 L49.28 188.26 L49.32 186.93 L49.36 185.60 L49.41 184.27 L49.45 182.94 L49.49 181.60 L49.53 180.27 L49.58 178.94 L49.62 177.61 L49.66 176.27 L49.70 174.94 L49.74 173.61 L49.79 172.28 L49.83 170.94 L49.87 169.61 L49.91 168.28 L49.95 166.95 L49.99 165.61 L50.03 164.28 L50.07 162.95 L50.11 161.61 L50.15 160.28 L50.19 158.95 L50.23 157.61 L50.27 156.28 L50.30 154.95 L50.34 153.62 L50.38 152.28 L50.42 150.95 L50.45 149.62 L50.49 148.28 L50.53 146.95 L50.56 145.62 L50.60 144.29 L50.63 142.96 L50.67 141.62 L50.70 140.29 L50.73 138.96 L50.77 137.63 L50.80 136.29 L50.83 134.96 L50.86 133.63 L50.90 132.30 L50.93 130.97 L50.96 129.64 L50.99 128.31 L51.02 126.98 L51.05 125.64 L51.07 124.31 L51.10 122.98 L51.13 121.65 L51.16 120.32 L51.18 118.99 L51.21 117.67 L51.23 116.34 L51.26 115.01 L51.28 113.68 L51.31 112.35 L51.33 111.02 L51.35 109.69 L51.37 108.37 L51.39 107.04 L51.41 105.71 L51.43 104.38 L51.45 103.06 L51.47 101.73 L51.49 100.40 L51.50 99.08 L51.52 97.75 L51.54 96.43 L51.55 95.10 L51.57 93.78 L51.58 92.45 L51.59 91.13 L51.60 89.81 L51.61 88.48 L51.62 87.16 L51.63 85.84 L51.64 84.52 L51.65 83.19 L51.66 81.87 L51.66 80.55 L51.67 79.23 L51.68 77.91 L51.68 76.59 L51.70 75.27 L51.72 73.95 L51.74 72.62 L51.78 71.29 L51.83 69.96 L51.89 68.63 L51.96 67.29 L52.06 65.95 L52.17 64.61 L52.30 63.25 L52.46 61.90 L52.64 60.53 L52.85 59.17 L53.09 57.79 L53.35 56.40 L53.65 55.01 L53.98 53.61 L54.36 52.22 L54.77 50.84 L55.23 49.50 L55.75 48.22 L56.32 46.99 L56.95 45.86 L57.65 44.82 L58.42 43.89 L59.27 43.09 L60.19 42.44 L61.18 41.93 L62.21 41.58 L63.28 41.39 L64.37 41.37 L65.48 41.52 L66.60 41.83 L67.71 42.30 L68.80 42.91 L69.88 43.64 L70.95 44.48 L71.99 45.41 L73.02 46.41 L74.02 47.47 L74.99 48.56 L75.94 49.67 L76.86 50.78 L77.75 51.89 L78.61 52.99 L79.44 54.09 L80.25 55.18 L81.03 56.28 L81.80 57.37 L82.54 58.47 L83.26 59.57 L83.96 60.68 L84.64 61.79 L85.31 62.91 L85.96 64.04 L86.60 65.18 L87.23 66.33 L87.84 67.49 L88.45 68.65 L89.05 69.83 L89.63 71.01 L90.21 72.19 L90.79 73.39 L91.35 74.58 L91.92 75.79 L92.48 76.99 L93.03 78.20 L93.59 79.41 L94.14 80.62 L94.70 81.84 L95.25 83.05 L95.81 84.26 L96.37 85.47 L96.93 86.68 L97.50 87.89 L98.08 89.10 L98.66 90.30 L99.25 91.49 L99.84 92.69 L100.45 93.87 L101.07 95.05 L101.70 96.23 L102.34 97.39 L103.00 98.55 L103.67 99.70 L104.35 100.84 L105.06 101.96 L105.77 103.09 L106.50 104.20 L107.24 105.30 L107.99 106.40 L108.76 107.48 L109.54 108.56 L110.33 109.63 L111.13 110.70 L111.94 111.75 L112.76 112.80 L113.59 113.85 L114.43 114.88 L115.27 115.91 L116.13 116.94 L116.99 117.95 L117.85 118.97 L118.73 119.97 L119.61 120.97 L120.50 121.97 L121.39 122.96 L122.30 123.94 L123.20 124.92 L124.12 125.89 L125.04 126.85 L125.97 127.81 L126.90 128.76 L127.84 129.71 L128.79 130.65 L129.74 131.58 L130.70 132.50 L131.67 133.42 L132.64 134.34 L133.62 135.24 L134.61 136.14 L135.60 137.03 L136.59 137.92 L137.60 138.80 L138.61 139.67 L139.62 140.53 L140.64 141.39 L141.67 142.24 L142.70 143.09 L143.74 143.92 L144.78 144.75 L145.83 145.57 L146.88 146.39 L147.94 147.19 L149.01 147.99 L150.08 148.78 L151.16 149.57 L152.24 150.34 L153.33 151.11 L154.42 151.87 L155.52 152.62 L156.62 153.37 L157.73 154.10 L158.85 154.83 L159.97 155.55 L161.09 156.26 L162.22 156.97 L163.35 157.66 L164.49 158.35 L165.64 159.03 L166.78 159.70 L167.94 160.36 L169.10 161.02 L170.26 161.66 L171.43 162.30 L172.60 162.92 L173.78 163.54 L174.96 164.15 L176.14 164.75 L177.33 165.35 L178.53 165.93 L179.73 166.50 L180.93 167.07 L182.14 167.62 L183.35 168.17 L184.57 168.71 L185.79 169.24 L187.02 169.76 L188.24 170.26 L189.48 170.76 L190.71 171.25 L191.95 171.74 L193.20 172.21 L194.45 172.67 L195.70 173.12 L196.96 173.56 L198.22 173.99 L199.48 174.41 L200.75 174.83 L202.02 175.23 L203.29 175.62 L204.57 176.00 L205.85 176.37 L207.14 176.73 L208.43 177.08 L209.72 177.42 L211.02 177.75" fill="none" stroke="#22a05a" stroke-width="1.8" stroke-linejoin="round"/>
<path d="M47.16 218.10 L47.21 216.78 L47.26 215.46 L47.31 214.14 L47.35 212.82 L47.40 211.50 L47.44 210.18 L47.49 208.87 L47.54 207.55 L47.58 206.24 L47.62 204.92 L47.67 203.61 L47.71 202.30 L47.75 200.99 L47.79 199.68 L47.83 198.37 L47.88 197.06 L47.92 195.76 L47.96 194.45 L48.00 193.14 L48.03 191.84 L48.07 190.53 L48.11 189.23 L48.15 187.93 L48.19 186.62 L48.23 185.32 L48.26 184.02 L48.30 182.72 L48.34 181.42 L48.37 180.12 L48.41 178.82 L48.44 177.52 L48.48 176.23 L48.51 174.93 L48.55 173.63 L48.58 172.34 L48.62 171.04 L48.65 169.74 L48.68 168.45 L48.72 167.15 L48.75 165.86 L48.79 164.56 L48.82 163.27 L48.85 161.98 L48.89 160.68 L48.92 159.39 L48.95 158.10 L48.98 156.80 L49.02 155.51 L49.05 154.22 L49.08 152.92 L49.12 151.63 L49.15 150.34 L49.18 149.05 L49.21 147.75 L49.25 146.46 L49.28 145.17 L49.31 143.88 L49.35 142.58 L49.38 141.29 L49.41 140.00 L49.44 138.71 L49.48 137.41 L49.51 136.12 L49.54 134.83 L49.58 133.53 L49.61 132.24 L49.65 130.94 L49.68 129.65 L49.71 128.36 L49.75 127.06 L49.78 125.77 L49.82 124.47 L49.85 123.17 L49.89 121.88 L49.93 120.58 L49.96 119.28 L50.00 117.99 L50.04 116.69 L50.07 115.39 L50.11 114.09 L50.15 112.79 L50.19 111.49 L50.22 110.19 L50.26 108.89 L50.30 107.59 L50.34 106.28 L50.38 104.98 L50.42 103.68 L50.46 102.37 L50.50 101.07 L50.55 99.76 L50.59 98.45 L50.63 97.15 L50.68 95.84 L50.72 94.53 L50.76 93.22 L50.81 91.91 L50.85 90.60 L50.90 89.28 L50.95 87.97 L50.99 86.66 L51.04 85.34 L51.09 84.02 L51.14 82.71 L51.19 81.39 L51.24 80.07 L51.29 78.75 L51.34 77.43 L51.39 76.10 L51.45 74.78 L51.50 73.45 L51.56 72.13 L51.61 70.80 L51.67 69.47 L51.72 68.14 L51.78 66.81 L51.84 65.48 L51.90 64.14 L51.96 62.81 L52.03 61.47 L52.11 60.15 L52.22 58.83 L52.35 57.53 L52.53 56.24 L52.76 54.99 L53.05 53.75 L53.40 52.56 L53.82 51.39 L54.33 50.27 L54.93 49.20 L55.63 48.17 L56.44 47.20 L57.36 46.28 L58.40 45.45 L59.52 44.73 L60.71 44.18 L61.93 43.83 L63.15 43.74 L64.36 43.94 L65.54 44.39 L66.67 45.00 L67.77 45.68 L68.82 46.41 L69.84 47.18 L70.82 47.99 L71.76 48.84 L72.67 49.72 L73.54 50.64 L74.39 51.59 L75.20 52.58 L75.99 53.59 L76.76 54.63 L77.49 55.69 L78.21 56.78 L78.91 57.89 L79.59 59.01 L80.25 60.16 L80.89 61.31 L81.52 62.48 L82.14 63.66 L82.75 64.85 L83.35 66.05 L83.95 67.25 L84.54 68.45 L85.12 69.65 L85.70 70.85 L86.29 72.05 L86.87 73.25 L87.45 74.45 L88.03 75.64 L88.61 76.83 L89.18 78.02 L89.76 79.21 L90.34 80.39 L90.93 81.57 L91.51 82.75 L92.09 83.93 L92.68 85.10 L93.26 86.27 L93.85 87.43 L94.44 88.60 L95.04 89.76 L95.64 90.91 L96.24 92.06 L96.84 93.21 L97.45 94.36 L98.07 95.50 L98.69 96.63 L99.31 97.76 L99.94 98.89 L100.57 100.01 L101.21 101.13 L101.86 102.24 L102.51 103.35 L103.17 104.46 L103.83 105.55 L104.50 106.65 L105.18 107.73 L105.87 108.82 L106.56 109.89 L107.27 110.97 L107.98 112.03 L108.70 113.09 L109.43 114.14 L110.17 115.19 L110.92 116.23 L111.68 117.27 L112.45 118.30 L113.23 119.32 L114.02 120.33 L114.82 121.34 L115.63 122.34 L116.45 123.34 L117.28 124.33 L118.12 125.31 L118.97 126.29 L119.82 127.25 L120.69 128.22 L121.57 129.17 L122.45 130.12 L123.35 131.06 L124.25 131.99 L125.16 132.92 L126.08 133.84 L127.00 134.75 L127.94 135.66 L128.88 136.56 L129.84 137.45 L130.80 138.33 L131.76 139.21 L132.74 140.08 L133.72 140.94 L134.71 141.80 L135.71 142.65 L136.72 143.49 L137.73 144.32 L138.75 145.15 L139.77 145.96 L140.81 146.77 L141.85 147.58 L142.89 148.37 L143.94 149.16 L145.00 149.94 L146.07 150.71 L147.14 151.47 L148.21 152.23 L149.30 152.98 L150.38 153.72 L151.48 154.45 L152.58 155.17 L153.68 155.89 L154.79 156.60 L155.91 157.30 L157.03 157.99 L158.15 158.67 L159.28 159.35 L160.42 160.02 L161.56 160.68 L162.70 161.33 L163.85 161.97 L165.00 162.60 L166.16 163.23 L167.32 163.85 L168.48 164.46 L169.65 165.06 L170.82 165.65 L171.99 166.23 L173.17 166.81 L174.35 167.37 L175.54 167.93 L176.73 168.48 L177.92 169.02 L179.11 169.55 L180.31 170.07 L181.51 170.58 L182.71 171.09 L183.91 171.58 L185.12 172.07 L186.33 172.55 L187.54 173.01 L188.75 173.47 L189.96 173.92 L191.18 174.36 L192.40 174.80 L193.62 175.22 L194.84 175.63 L196.06 176.03 L197.28 176.43 L198.50 176.81 L199.73 177.19 L200.95 177.56 L202.18 177.91 L203.41 178.26 L204.63 178.60 L205.86 178.92 L207.09 179.24 L208.31 179.55 L209.54 179.85 L210.77 180.14" fill="none" stroke="#d39a0a" stroke-width="1.8" stroke-linejoin="round"/>
<rect x="133.4" y="14.2" width="75" height="89" fill="#ffffff" stroke="#b0b0b0" stroke-width="0.8"/>
<text transform="translate(134.80 22.80) scale(0.895 1)" font-size="9.40" text-anchor="start" fill="#1a1a1a" stroke="#1a1a1a" stroke-width="0.20">Cell: Pouch 5 Ah</text>
<text transform="translate(134.80 32.80) scale(0.895 1)" font-size="9.40" text-anchor="start" fill="#1a1a1a" stroke="#1a1a1a" stroke-width="0.20">d<tspan font-size="6.0" dy="2.6">Punch</tspan><tspan dy="-2.6"> = 10 mm</tspan></text>
<text transform="translate(134.80 46.30) scale(0.895 1)" font-size="9.40" text-anchor="start" fill="#1a1a1a" stroke="#1a1a1a" stroke-width="0.20">v<tspan font-size="6.0" dy="2.6">Crush</tspan><tspan dy="-2.6"> = 1 mm min</tspan><tspan font-size="6.0" dy="-3.6">−1</tspan></text>
<line x1="134.60" y1="55.90" x2="153.40" y2="55.90" stroke="#444444" stroke-width="1.60"/>
<text transform="translate(155.60 59.10) scale(0.895 1)" font-size="9.40" text-anchor="start" fill="#1a1a1a" stroke="#1a1a1a" stroke-width="0.20">No clamping</text>
<line x1="134.60" y1="66.30" x2="153.40" y2="66.30" stroke="#ec3338" stroke-width="1.60"/>
<text transform="translate(155.60 69.50) scale(0.895 1)" font-size="9.40" text-anchor="start" fill="#1a1a1a" stroke="#1a1a1a" stroke-width="0.20">0.05 MPa</text>
<line x1="134.60" y1="76.70" x2="153.40" y2="76.70" stroke="#1f6be0" stroke-width="1.60"/>
<text transform="translate(155.60 79.90) scale(0.895 1)" font-size="9.40" text-anchor="start" fill="#1a1a1a" stroke="#1a1a1a" stroke-width="0.20">0.15 MPa</text>
<line x1="134.60" y1="87.10" x2="153.40" y2="87.10" stroke="#22a05a" stroke-width="1.60"/>
<text transform="translate(155.60 90.30) scale(0.895 1)" font-size="9.40" text-anchor="start" fill="#1a1a1a" stroke="#1a1a1a" stroke-width="0.20">0.25 MPa</text>
<line x1="134.60" y1="97.50" x2="153.40" y2="97.50" stroke="#d39a0a" stroke-width="1.60"/>
<text transform="translate(155.60 100.70) scale(0.895 1)" font-size="9.40" text-anchor="start" fill="#1a1a1a" stroke="#1a1a1a" stroke-width="0.20">0.50 MPa</text>
<rect x="46.30" y="10.60" width="164.70" height="214.90" fill="none" stroke="#1e1e1e" stroke-width="1"/>
<line x1="42.80" y1="225.50" x2="46.30" y2="225.50" stroke="#1e1e1e" stroke-width="1.00"/>
<line x1="207.50" y1="225.50" x2="211.00" y2="225.50" stroke="#1e1e1e" stroke-width="1.00"/>
<line x1="44.30" y1="207.59" x2="46.30" y2="207.59" stroke="#1e1e1e" stroke-width="1.00"/>
<line x1="209.00" y1="207.59" x2="211.00" y2="207.59" stroke="#1e1e1e" stroke-width="1.00"/>
<line x1="42.80" y1="189.68" x2="46.30" y2="189.68" stroke="#1e1e1e" stroke-width="1.00"/>
<line x1="207.50" y1="189.68" x2="211.00" y2="189.68" stroke="#1e1e1e" stroke-width="1.00"/>
<line x1="44.30" y1="171.78" x2="46.30" y2="171.78" stroke="#1e1e1e" stroke-width="1.00"/>
<line x1="209.00" y1="171.78" x2="211.00" y2="171.78" stroke="#1e1e1e" stroke-width="1.00"/>
<line x1="42.80" y1="153.87" x2="46.30" y2="153.87" stroke="#1e1e1e" stroke-width="1.00"/>
<line x1="207.50" y1="153.87" x2="211.00" y2="153.87" stroke="#1e1e1e" stroke-width="1.00"/>
<line x1="44.30" y1="135.96" x2="46.30" y2="135.96" stroke="#1e1e1e" stroke-width="1.00"/>
<line x1="209.00" y1="135.96" x2="211.00" y2="135.96" stroke="#1e1e1e" stroke-width="1.00"/>
<line x1="42.80" y1="118.05" x2="46.30" y2="118.05" stroke="#1e1e1e" stroke-width="1.00"/>
<line x1="207.50" y1="118.05" x2="211.00" y2="118.05" stroke="#1e1e1e" stroke-width="1.00"/>
<line x1="44.30" y1="100.14" x2="46.30" y2="100.14" stroke="#1e1e1e" stroke-width="1.00"/>
<line x1="209.00" y1="100.14" x2="211.00" y2="100.14" stroke="#1e1e1e" stroke-width="1.00"/>
<line x1="42.80" y1="82.23" x2="46.30" y2="82.23" stroke="#1e1e1e" stroke-width="1.00"/>
<line x1="207.50" y1="82.23" x2="211.00" y2="82.23" stroke="#1e1e1e" stroke-width="1.00"/>
<line x1="44.30" y1="64.32" x2="46.30" y2="64.32" stroke="#1e1e1e" stroke-width="1.00"/>
<line x1="209.00" y1="64.32" x2="211.00" y2="64.32" stroke="#1e1e1e" stroke-width="1.00"/>
<line x1="42.80" y1="46.42" x2="46.30" y2="46.42" stroke="#1e1e1e" stroke-width="1.00"/>
<line x1="207.50" y1="46.42" x2="211.00" y2="46.42" stroke="#1e1e1e" stroke-width="1.00"/>
<line x1="44.30" y1="28.51" x2="46.30" y2="28.51" stroke="#1e1e1e" stroke-width="1.00"/>
<line x1="209.00" y1="28.51" x2="211.00" y2="28.51" stroke="#1e1e1e" stroke-width="1.00"/>
<line x1="42.80" y1="10.60" x2="46.30" y2="10.60" stroke="#1e1e1e" stroke-width="1.00"/>
<line x1="207.50" y1="10.60" x2="211.00" y2="10.60" stroke="#1e1e1e" stroke-width="1.00"/>
<line x1="46.30" y1="225.50" x2="46.30" y2="229.00" stroke="#1e1e1e" stroke-width="1.00"/>
<line x1="46.30" y1="10.60" x2="46.30" y2="14.10" stroke="#1e1e1e" stroke-width="1.00"/>
<line x1="62.77" y1="225.50" x2="62.77" y2="227.50" stroke="#1e1e1e" stroke-width="1.00"/>
<line x1="62.77" y1="10.60" x2="62.77" y2="12.60" stroke="#1e1e1e" stroke-width="1.00"/>
<line x1="79.24" y1="225.50" x2="79.24" y2="229.00" stroke="#1e1e1e" stroke-width="1.00"/>
<line x1="79.24" y1="10.60" x2="79.24" y2="14.10" stroke="#1e1e1e" stroke-width="1.00"/>
<line x1="95.71" y1="225.50" x2="95.71" y2="227.50" stroke="#1e1e1e" stroke-width="1.00"/>
<line x1="95.71" y1="10.60" x2="95.71" y2="12.60" stroke="#1e1e1e" stroke-width="1.00"/>
<line x1="112.18" y1="225.50" x2="112.18" y2="229.00" stroke="#1e1e1e" stroke-width="1.00"/>
<line x1="112.18" y1="10.60" x2="112.18" y2="14.10" stroke="#1e1e1e" stroke-width="1.00"/>
<line x1="128.65" y1="225.50" x2="128.65" y2="227.50" stroke="#1e1e1e" stroke-width="1.00"/>
<line x1="128.65" y1="10.60" x2="128.65" y2="12.60" stroke="#1e1e1e" stroke-width="1.00"/>
<line x1="145.12" y1="225.50" x2="145.12" y2="229.00" stroke="#1e1e1e" stroke-width="1.00"/>
<line x1="145.12" y1="10.60" x2="145.12" y2="14.10" stroke="#1e1e1e" stroke-width="1.00"/>
<line x1="161.59" y1="225.50" x2="161.59" y2="227.50" stroke="#1e1e1e" stroke-width="1.00"/>
<line x1="161.59" y1="10.60" x2="161.59" y2="12.60" stroke="#1e1e1e" stroke-width="1.00"/>
<line x1="178.06" y1="225.50" x2="178.06" y2="229.00" stroke="#1e1e1e" stroke-width="1.00"/>
<line x1="178.06" y1="10.60" x2="178.06" y2="14.10" stroke="#1e1e1e" stroke-width="1.00"/>
<line x1="194.53" y1="225.50" x2="194.53" y2="227.50" stroke="#1e1e1e" stroke-width="1.00"/>
<line x1="194.53" y1="10.60" x2="194.53" y2="12.60" stroke="#1e1e1e" stroke-width="1.00"/>
<line x1="211.00" y1="225.50" x2="211.00" y2="229.00" stroke="#1e1e1e" stroke-width="1.00"/>
<line x1="211.00" y1="10.60" x2="211.00" y2="14.10" stroke="#1e1e1e" stroke-width="1.00"/>
<text transform="translate(39.40 228.70) scale(0.895 1)" font-size="9.40" text-anchor="end" fill="#1a1a1a" stroke="#1a1a1a" stroke-width="0.20">0</text>
<text transform="translate(39.40 192.88) scale(0.895 1)" font-size="9.40" text-anchor="end" fill="#1a1a1a" stroke="#1a1a1a" stroke-width="0.20">100</text>
<text transform="translate(39.40 157.07) scale(0.895 1)" font-size="9.40" text-anchor="end" fill="#1a1a1a" stroke="#1a1a1a" stroke-width="0.20">200</text>
<text transform="translate(39.40 121.25) scale(0.895 1)" font-size="9.40" text-anchor="end" fill="#1a1a1a" stroke="#1a1a1a" stroke-width="0.20">300</text>
<text transform="translate(39.40 85.43) scale(0.895 1)" font-size="9.40" text-anchor="end" fill="#1a1a1a" stroke="#1a1a1a" stroke-width="0.20">400</text>
<text transform="translate(39.40 49.62) scale(0.895 1)" font-size="9.40" text-anchor="end" fill="#1a1a1a" stroke="#1a1a1a" stroke-width="0.20">500</text>
<text transform="translate(39.40 13.80) scale(0.895 1)" font-size="9.40" text-anchor="end" fill="#1a1a1a" stroke="#1a1a1a" stroke-width="0.20">600</text>
<text transform="translate(46.30 238.80) scale(0.895 1)" font-size="9.40" text-anchor="middle" fill="#1a1a1a" stroke="#1a1a1a" stroke-width="0.20">0</text>
<text transform="translate(79.24 238.80) scale(0.895 1)" font-size="9.40" text-anchor="middle" fill="#1a1a1a" stroke="#1a1a1a" stroke-width="0.20">20</text>
<text transform="translate(112.18 238.80) scale(0.895 1)" font-size="9.40" text-anchor="middle" fill="#1a1a1a" stroke="#1a1a1a" stroke-width="0.20">40</text>
<text transform="translate(145.12 238.80) scale(0.895 1)" font-size="9.40" text-anchor="middle" fill="#1a1a1a" stroke="#1a1a1a" stroke-width="0.20">60</text>
<text transform="translate(178.06 238.80) scale(0.895 1)" font-size="9.40" text-anchor="middle" fill="#1a1a1a" stroke="#1a1a1a" stroke-width="0.20">80</text>
<text transform="translate(211.00 238.80) scale(0.895 1)" font-size="9.40" text-anchor="middle" fill="#1a1a1a" stroke="#1a1a1a" stroke-width="0.20">100</text>
<text transform="translate(129.00 254.60) rotate(0)" font-size="10.20" text-anchor="middle" fill="#1a1a1a" stroke="#1a1a1a" stroke-width="0.22">Relative test time / s</text>
<text transform="translate(14.20 111.60) rotate(-90)" font-size="10.30" text-anchor="middle" fill="#1a1a1a" stroke="#1a1a1a" stroke-width="0.22">Cell surface temperature / °C</text>
<text x="112" y="281.6" font-size="11" text-anchor="middle" fill="#1a1a1a" font-family="Liberation Serif, serif">(<tspan font-weight="bold">a</tspan>)</text>
<line x1="309.65" y1="10.60" x2="309.65" y2="225.60" stroke="#f0f0f0" stroke-width="0.80"/>
<line x1="327.90" y1="10.60" x2="327.90" y2="225.60" stroke="#dedede" stroke-width="0.80"/>
<line x1="346.15" y1="10.60" x2="346.15" y2="225.60" stroke="#f0f0f0" stroke-width="0.80"/>
<line x1="364.40" y1="10.60" x2="364.40" y2="225.60" stroke="#dedede" stroke-width="0.80"/>
<line x1="382.65" y1="10.60" x2="382.65" y2="225.60" stroke="#f0f0f0" stroke-width="0.80"/>
<line x1="400.90" y1="10.60" x2="400.90" y2="225.60" stroke="#dedede" stroke-width="0.80"/>
<line x1="419.15" y1="10.60" x2="419.15" y2="225.60" stroke="#f0f0f0" stroke-width="0.80"/>
<line x1="437.40" y1="10.60" x2="437.40" y2="225.60" stroke="#dedede" stroke-width="0.80"/>
<line x1="455.65" y1="10.60" x2="455.65" y2="225.60" stroke="#f0f0f0" stroke-width="0.80"/>
<line x1="473.90" y1="10.60" x2="473.90" y2="225.60" stroke="#dedede" stroke-width="0.80"/>
<line x1="291.40" y1="214.85" x2="482.40" y2="214.85" stroke="#f0f0f0" stroke-width="0.80"/>
<line x1="291.40" y1="204.10" x2="482.40" y2="204.10" stroke="#dedede" stroke-width="0.80"/>
<line x1="291.40" y1="193.35" x2="482.40" y2="193.35" stroke="#f0f0f0" stroke-width="0.80"/>
<line x1="291.40" y1="182.60" x2="482.40" y2="182.60" stroke="#dedede" stroke-width="0.80"/>
<line x1="291.40" y1="171.85" x2="482.40" y2="171.85" stroke="#f0f0f0" stroke-width="0.80"/>
<line x1="291.40" y1="161.10" x2="482.40" y2="161.10" stroke="#dedede" stroke-width="0.80"/>
<line x1="291.40" y1="150.35" x2="482.40" y2="150.35" stroke="#f0f0f0" stroke-width="0.80"/>
<line x1="291.40" y1="139.60" x2="482.40" y2="139.60" stroke="#dedede" stroke-width="0.80"/>
<line x1="291.40" y1="128.85" x2="482.40" y2="128.85" stroke="#f0f0f0" stroke-width="0.80"/>
<line x1="291.40" y1="118.10" x2="482.40" y2="118.10" stroke="#dedede" stroke-width="0.80"/>
<line x1="291.40" y1="107.35" x2="482.40" y2="107.35" stroke="#f0f0f0" stroke-width="0.80"/>
<line x1="291.40" y1="96.60" x2="482.40" y2="96.60" stroke="#dedede" stroke-width="0.80"/>
<line x1="291.40" y1="85.85" x2="482.40" y2="85.85" stroke="#f0f0f0" stroke-width="0.80"/>
<line x1="291.40" y1="75.10" x2="482.40" y2="75.10" stroke="#dedede" stroke-width="0.80"/>
<line x1="291.40" y1="64.35" x2="482.40" y2="64.35" stroke="#f0f0f0" stroke-width="0.80"/>
<line x1="291.40" y1="53.60" x2="482.40" y2="53.60" stroke="#dedede" stroke-width="0.80"/>
<line x1="291.40" y1="42.85" x2="482.40" y2="42.85" stroke="#f0f0f0" stroke-width="0.80"/>
<line x1="291.40" y1="32.10" x2="482.40" y2="32.10" stroke="#dedede" stroke-width="0.80"/>
<line x1="291.40" y1="21.35" x2="482.40" y2="21.35" stroke="#f0f0f0" stroke-width="0.80"/>
<line x1="309.60" y1="53.40" x2="309.60" y2="95.00" stroke="#505050" stroke-width="1.00"/>
<line x1="307.60" y1="53.40" x2="311.60" y2="53.40" stroke="#505050" stroke-width="1.00"/>
<line x1="307.60" y1="95.00" x2="311.60" y2="95.00" stroke="#505050" stroke-width="1.00"/>
<line x1="346.20" y1="57.20" x2="346.20" y2="107.20" stroke="#505050" stroke-width="1.00"/>
<line x1="344.20" y1="57.20" x2="348.20" y2="57.20" stroke="#505050" stroke-width="1.00"/>
<line x1="344.20" y1="107.20" x2="348.20" y2="107.20" stroke="#505050" stroke-width="1.00"/>
<line x1="382.70" y1="76.80" x2="382.70" y2="132.80" stroke="#505050" stroke-width="1.00"/>
<line x1="380.70" y1="76.80" x2="384.70" y2="76.80" stroke="#505050" stroke-width="1.00"/>
<line x1="380.70" y1="132.80" x2="384.70" y2="132.80" stroke="#505050" stroke-width="1.00"/>
<line x1="473.90" y1="96.50" x2="473.90" y2="119.10" stroke="#505050" stroke-width="1.00"/>
<line x1="471.90" y1="96.50" x2="475.90" y2="96.50" stroke="#505050" stroke-width="1.00"/>
<line x1="471.90" y1="119.10" x2="475.90" y2="119.10" stroke="#505050" stroke-width="1.00"/>
<line x1="309.60" y1="76.60" x2="473.90" y2="107.80" stroke="#505050" stroke-width="1.10"/>
<rect x="307.40" y="72.00" width="4.4" height="4.4" fill="#505050"/>
<rect x="344.00" y="80.00" width="4.4" height="4.4" fill="#505050"/>
<rect x="380.50" y="102.60" width="4.4" height="4.4" fill="#505050"/>
<rect x="471.70" y="105.60" width="4.4" height="4.4" fill="#505050"/>
<line x1="309.60" y1="109.50" x2="309.60" y2="146.50" stroke="#ec3338" stroke-width="1.00"/>
<line x1="307.60" y1="109.50" x2="311.60" y2="109.50" stroke="#ec3338" stroke-width="1.00"/>
<line x1="307.60" y1="146.50" x2="311.60" y2="146.50" stroke="#ec3338" stroke-width="1.00"/>
<line x1="346.20" y1="126.80" x2="346.20" y2="149.80" stroke="#ec3338" stroke-width="1.00"/>
<line x1="344.20" y1="126.80" x2="348.20" y2="126.80" stroke="#ec3338" stroke-width="1.00"/>
<line x1="344.20" y1="149.80" x2="348.20" y2="149.80" stroke="#ec3338" stroke-width="1.00"/>
<line x1="382.70" y1="133.60" x2="382.70" y2="157.60" stroke="#ec3338" stroke-width="1.00"/>
<line x1="380.70" y1="133.60" x2="384.70" y2="133.60" stroke="#ec3338" stroke-width="1.00"/>
<line x1="380.70" y1="157.60" x2="384.70" y2="157.60" stroke="#ec3338" stroke-width="1.00"/>
<line x1="473.90" y1="145.60" x2="473.90" y2="171.00" stroke="#ec3338" stroke-width="1.00"/>
<line x1="471.90" y1="145.60" x2="475.90" y2="145.60" stroke="#ec3338" stroke-width="1.00"/>
<line x1="471.90" y1="171.00" x2="475.90" y2="171.00" stroke="#ec3338" stroke-width="1.00"/>
<line x1="309.60" y1="131.70" x2="473.90" y2="158.30" stroke="#ec3338" stroke-width="1.10"/>
<rect x="307.40" y="125.80" width="4.4" height="4.4" fill="#ec3338"/>
<rect x="344.00" y="136.10" width="4.4" height="4.4" fill="#ec3338"/>
<rect x="380.50" y="143.40" width="4.4" height="4.4" fill="#ec3338"/>
<rect x="471.70" y="156.10" width="4.4" height="4.4" fill="#ec3338"/>
<line x1="309.60" y1="184.90" x2="309.60" y2="225.50" stroke="#1f6be0" stroke-width="1.30"/>
<line x1="307.60" y1="184.90" x2="311.60" y2="184.90" stroke="#1f6be0" stroke-width="1.00"/>
<line x1="307.60" y1="225.50" x2="311.60" y2="225.50" stroke="#1f6be0" stroke-width="1.00"/>
<line x1="346.20" y1="184.90" x2="346.20" y2="213.90" stroke="#1f6be0" stroke-width="1.30"/>
<line x1="344.20" y1="184.90" x2="348.20" y2="184.90" stroke="#1f6be0" stroke-width="1.00"/>
<line x1="344.20" y1="213.90" x2="348.20" y2="213.90" stroke="#1f6be0" stroke-width="1.00"/>
<line x1="382.70" y1="181.40" x2="382.70" y2="213.80" stroke="#1f6be0" stroke-width="1.30"/>
<line x1="380.70" y1="181.40" x2="384.70" y2="181.40" stroke="#1f6be0" stroke-width="1.00"/>
<line x1="380.70" y1="213.80" x2="384.70" y2="213.80" stroke="#1f6be0" stroke-width="1.00"/>
<line x1="473.90" y1="170.40" x2="473.90" y2="201.00" stroke="#1f6be0" stroke-width="1.30"/>
<line x1="471.90" y1="170.40" x2="475.90" y2="170.40" stroke="#1f6be0" stroke-width="1.00"/>
<line x1="471.90" y1="201.00" x2="475.90" y2="201.00" stroke="#1f6be0" stroke-width="1.00"/>
<line x1="309.60" y1="205.50" x2="473.90" y2="185.50" stroke="#1f6be0" stroke-width="1.10"/>
<rect x="307.40" y="203.00" width="4.4" height="4.4" fill="#1f6be0"/>
<rect x="344.00" y="197.20" width="4.4" height="4.4" fill="#1f6be0"/>
<rect x="380.50" y="195.40" width="4.4" height="4.4" fill="#1f6be0"/>
<rect x="471.70" y="183.50" width="4.4" height="4.4" fill="#1f6be0"/>
<line x1="291.40" y1="10.60" x2="482.40" y2="10.60" stroke="#1e1e1e" stroke-width="1.00"/>
<line x1="291.40" y1="225.60" x2="482.40" y2="225.60" stroke="#1e1e1e" stroke-width="1.00"/>
<line x1="291.40" y1="10.10" x2="291.40" y2="226.10" stroke="#1e1e1e" stroke-width="1.00"/>
<line x1="287.90" y1="225.60" x2="291.40" y2="225.60" stroke="#1e1e1e" stroke-width="1.00"/>
<line x1="289.40" y1="214.85" x2="291.40" y2="214.85" stroke="#1e1e1e" stroke-width="1.00"/>
<line x1="287.90" y1="204.10" x2="291.40" y2="204.10" stroke="#1e1e1e" stroke-width="1.00"/>
<line x1="289.40" y1="193.35" x2="291.40" y2="193.35" stroke="#1e1e1e" stroke-width="1.00"/>
<line x1="287.90" y1="182.60" x2="291.40" y2="182.60" stroke="#1e1e1e" stroke-width="1.00"/>
<line x1="289.40" y1="171.85" x2="291.40" y2="171.85" stroke="#1e1e1e" stroke-width="1.00"/>
<line x1="287.90" y1="161.10" x2="291.40" y2="161.10" stroke="#1e1e1e" stroke-width="1.00"/>
<line x1="289.40" y1="150.35" x2="291.40" y2="150.35" stroke="#1e1e1e" stroke-width="1.00"/>
<line x1="287.90" y1="139.60" x2="291.40" y2="139.60" stroke="#1e1e1e" stroke-width="1.00"/>
<line x1="289.40" y1="128.85" x2="291.40" y2="128.85" stroke="#1e1e1e" stroke-width="1.00"/>
<line x1="287.90" y1="118.10" x2="291.40" y2="118.10" stroke="#1e1e1e" stroke-width="1.00"/>
<line x1="289.40" y1="107.35" x2="291.40" y2="107.35" stroke="#1e1e1e" stroke-width="1.00"/>
<line x1="287.90" y1="96.60" x2="291.40" y2="96.60" stroke="#1e1e1e" stroke-width="1.00"/>
<line x1="289.40" y1="85.85" x2="291.40" y2="85.85" stroke="#1e1e1e" stroke-width="1.00"/>
<line x1="287.90" y1="75.10" x2="291.40" y2="75.10" stroke="#1e1e1e" stroke-width="1.00"/>
<line x1="289.40" y1="64.35" x2="291.40" y2="64.35" stroke="#1e1e1e" stroke-width="1.00"/>
<line x1="287.90" y1="53.60" x2="291.40" y2="53.60" stroke="#1e1e1e" stroke-width="1.00"/>
<line x1="289.40" y1="42.85" x2="291.40" y2="42.85" stroke="#1e1e1e" stroke-width="1.00"/>
<line x1="287.90" y1="32.10" x2="291.40" y2="32.10" stroke="#1e1e1e" stroke-width="1.00"/>
<line x1="289.40" y1="21.35" x2="291.40" y2="21.35" stroke="#1e1e1e" stroke-width="1.00"/>
<line x1="287.90" y1="10.60" x2="291.40" y2="10.60" stroke="#1e1e1e" stroke-width="1.00"/>
<line x1="291.40" y1="225.60" x2="291.40" y2="229.10" stroke="#1e1e1e" stroke-width="1.00"/>
<line x1="291.40" y1="10.60" x2="291.40" y2="14.10" stroke="#1e1e1e" stroke-width="1.00"/>
<line x1="309.65" y1="225.60" x2="309.65" y2="227.60" stroke="#1e1e1e" stroke-width="1.00"/>
<line x1="309.65" y1="10.60" x2="309.65" y2="12.60" stroke="#1e1e1e" stroke-width="1.00"/>
<line x1="327.90" y1="225.60" x2="327.90" y2="229.10" stroke="#1e1e1e" stroke-width="1.00"/>
<line x1="327.90" y1="10.60" x2="327.90" y2="14.10" stroke="#1e1e1e" stroke-width="1.00"/>
<line x1="346.15" y1="225.60" x2="346.15" y2="227.60" stroke="#1e1e1e" stroke-width="1.00"/>
<line x1="346.15" y1="10.60" x2="346.15" y2="12.60" stroke="#1e1e1e" stroke-width="1.00"/>
<line x1="364.40" y1="225.60" x2="364.40" y2="229.10" stroke="#1e1e1e" stroke-width="1.00"/>
<line x1="364.40" y1="10.60" x2="364.40" y2="14.10" stroke="#1e1e1e" stroke-width="1.00"/>
<line x1="382.65" y1="225.60" x2="382.65" y2="227.60" stroke="#1e1e1e" stroke-width="1.00"/>
<line x1="382.65" y1="10.60" x2="382.65" y2="12.60" stroke="#1e1e1e" stroke-width="1.00"/>
<line x1="400.90" y1="225.60" x2="400.90" y2="229.10" stroke="#1e1e1e" stroke-width="1.00"/>
<line x1="400.90" y1="10.60" x2="400.90" y2="14.10" stroke="#1e1e1e" stroke-width="1.00"/>
<line x1="419.15" y1="225.60" x2="419.15" y2="227.60" stroke="#1e1e1e" stroke-width="1.00"/>
<line x1="419.15" y1="10.60" x2="419.15" y2="12.60" stroke="#1e1e1e" stroke-width="1.00"/>
<line x1="437.40" y1="225.60" x2="437.40" y2="229.10" stroke="#1e1e1e" stroke-width="1.00"/>
<line x1="437.40" y1="10.60" x2="437.40" y2="14.10" stroke="#1e1e1e" stroke-width="1.00"/>
<line x1="455.65" y1="225.60" x2="455.65" y2="227.60" stroke="#1e1e1e" stroke-width="1.00"/>
<line x1="455.65" y1="10.60" x2="455.65" y2="12.60" stroke="#1e1e1e" stroke-width="1.00"/>
<line x1="473.90" y1="225.60" x2="473.90" y2="229.10" stroke="#1e1e1e" stroke-width="1.00"/>
<line x1="473.90" y1="10.60" x2="473.90" y2="14.10" stroke="#1e1e1e" stroke-width="1.00"/>
<text transform="translate(285.20 228.80) scale(0.895 1)" font-size="9.40" text-anchor="end" fill="#1a1a1a" stroke="#1a1a1a" stroke-width="0.20">400</text>
<text transform="translate(285.20 207.30) scale(0.895 1)" font-size="9.40" text-anchor="end" fill="#1a1a1a" stroke="#1a1a1a" stroke-width="0.20">420</text>
<text transform="translate(285.20 185.80) scale(0.895 1)" font-size="9.40" text-anchor="end" fill="#1a1a1a" stroke="#1a1a1a" stroke-width="0.20">440</text>
<text transform="translate(285.20 164.30) scale(0.895 1)" font-size="9.40" text-anchor="end" fill="#1a1a1a" stroke="#1a1a1a" stroke-width="0.20">460</text>
<text transform="translate(285.20 142.80) scale(0.895 1)" font-size="9.40" text-anchor="end" fill="#1a1a1a" stroke="#1a1a1a" stroke-width="0.20">480</text>
<text transform="translate(285.20 121.30) scale(0.895 1)" font-size="9.40" text-anchor="end" fill="#1a1a1a" stroke="#1a1a1a" stroke-width="0.20">500</text>
<text transform="translate(285.20 99.80) scale(0.895 1)" font-size="9.40" text-anchor="end" fill="#1a1a1a" stroke="#1a1a1a" stroke-width="0.20">520</text>
<text transform="translate(285.20 78.30) scale(0.895 1)" font-size="9.40" text-anchor="end" fill="#1a1a1a" stroke="#1a1a1a" stroke-width="0.20">540</text>
<text transform="translate(285.20 56.80) scale(0.895 1)" font-size="9.40" text-anchor="end" fill="#1a1a1a" stroke="#1a1a1a" stroke-width="0.20">560</text>
<text transform="translate(285.20 35.30) scale(0.895 1)" font-size="9.40" text-anchor="end" fill="#1a1a1a" stroke="#1a1a1a" stroke-width="0.20">580</text>
<text transform="translate(285.20 13.80) scale(0.895 1)" font-size="9.40" text-anchor="end" fill="#1a1a1a" stroke="#1a1a1a" stroke-width="0.20">600</text>
<text transform="translate(291.40 238.80) scale(0.895 1)" font-size="9.40" text-anchor="middle" fill="#1a1a1a" stroke="#1a1a1a" stroke-width="0.20">0.0</text>
<text transform="translate(327.90 238.80) scale(0.895 1)" font-size="9.40" text-anchor="middle" fill="#1a1a1a" stroke="#1a1a1a" stroke-width="0.20">0.1</text>
<text transform="translate(364.40 238.80) scale(0.895 1)" font-size="9.40" text-anchor="middle" fill="#1a1a1a" stroke="#1a1a1a" stroke-width="0.20">0.2</text>
<text transform="translate(400.90 238.80) scale(0.895 1)" font-size="9.40" text-anchor="middle" fill="#1a1a1a" stroke="#1a1a1a" stroke-width="0.20">0.3</text>
<text transform="translate(437.40 238.80) scale(0.895 1)" font-size="9.40" text-anchor="middle" fill="#1a1a1a" stroke="#1a1a1a" stroke-width="0.20">0.4</text>
<text transform="translate(473.90 238.80) scale(0.895 1)" font-size="9.40" text-anchor="middle" fill="#1a1a1a" stroke="#1a1a1a" stroke-width="0.20">0.5</text>
<text transform="translate(386.40 254.60) rotate(0)" font-size="10.20" text-anchor="middle" fill="#1a1a1a" stroke="#1a1a1a" stroke-width="0.22">Clamping normal stress / MPa</text>
<text transform="translate(263.40 118.25) rotate(-90)" font-size="10.20" text-anchor="middle" fill="#1a1a1a" stroke="#1a1a1a" stroke-width="0.22">Maximum cell surface temperature / °C</text>
<text x="400.3" y="281.4" font-size="11" text-anchor="middle" fill="#1a1a1a" font-family="Liberation Serif, serif">(<tspan font-weight="bold">b</tspan>)</text>
<rect x="353.6" y="11.2" width="125" height="69.3" fill="#ffffff" stroke="#b0b0b0" stroke-width="0.8"/>
<text transform="translate(355.10 21.00) scale(0.895 1)" font-size="9.40" text-anchor="start" fill="#1a1a1a" stroke="#1a1a1a" stroke-width="0.20">Cell: Pouch 5 Ah</text>
<text transform="translate(355.10 30.20) scale(0.895 1)" font-size="9.40" text-anchor="start" fill="#1a1a1a" stroke="#1a1a1a" stroke-width="0.20">d<tspan font-size="6.0" dy="2.6">Punch</tspan><tspan dy="-2.6"> = 10 mm</tspan></text>
<text transform="translate(355.10 44.40) scale(0.895 1)" font-size="9.40" text-anchor="start" fill="#1a1a1a" stroke="#1a1a1a" stroke-width="0.20">v<tspan font-size="6.0" dy="2.6">Crush</tspan><tspan dy="-2.6"> = 1 mm min</tspan><tspan font-size="6.0" dy="-3.6">−1</tspan></text>
<rect x="362.10" y="51.60" width="4.4" height="4.4" fill="#505050"/>
<text transform="translate(376.10 57.00) scale(0.895 1)" font-size="9.40" text-anchor="start" fill="#1a1a1a" stroke="#1a1a1a" stroke-width="0.20">Max. cell surface temp.</text>
<rect x="362.10" y="61.80" width="4.4" height="4.4" fill="#ec3338"/>
<text transform="translate(376.10 67.20) scale(0.895 1)" font-size="9.40" text-anchor="start" fill="#1a1a1a" stroke="#1a1a1a" stroke-width="0.20">Time to max. surface temp.</text>
<rect x="362.10" y="72.00" width="4.4" height="4.4" fill="#1f6be0"/>
<text transform="translate(376.10 77.40) scale(0.895 1)" font-size="9.40" text-anchor="start" fill="#1a1a1a" stroke="#1a1a1a" stroke-width="0.20">Average heating rate</text>
<line x1="482.40" y1="10.10" x2="482.40" y2="226.10" stroke="#f03c3c" stroke-width="1.00"/>
<line x1="480.60" y1="225.60" x2="482.40" y2="225.60" stroke="#f03c3c" stroke-width="1.00"/>
<line x1="479.40" y1="211.27" x2="482.40" y2="211.27" stroke="#f03c3c" stroke-width="1.00"/>
<text transform="translate(486.50 213.97) scale(0.895 1)" font-size="9.40" text-anchor="start" fill="#f04a4a" stroke="#f04a4a" stroke-width="0.10">6</text>
<line x1="480.60" y1="196.93" x2="482.40" y2="196.93" stroke="#f03c3c" stroke-width="1.00"/>
<line x1="479.40" y1="182.60" x2="482.40" y2="182.60" stroke="#f03c3c" stroke-width="1.00"/>
<text transform="translate(486.50 185.30) scale(0.895 1)" font-size="9.40" text-anchor="start" fill="#f04a4a" stroke="#f04a4a" stroke-width="0.10">8</text>
<line x1="480.60" y1="168.27" x2="482.40" y2="168.27" stroke="#f03c3c" stroke-width="1.00"/>
<line x1="479.40" y1="153.93" x2="482.40" y2="153.93" stroke="#f03c3c" stroke-width="1.00"/>
<text transform="translate(486.50 156.63) scale(0.895 1)" font-size="9.40" text-anchor="start" fill="#f04a4a" stroke="#f04a4a" stroke-width="0.10">10</text>
<line x1="480.60" y1="139.60" x2="482.40" y2="139.60" stroke="#f03c3c" stroke-width="1.00"/>
<line x1="479.40" y1="125.27" x2="482.40" y2="125.27" stroke="#f03c3c" stroke-width="1.00"/>
<text transform="translate(486.50 127.97) scale(0.895 1)" font-size="9.40" text-anchor="start" fill="#f04a4a" stroke="#f04a4a" stroke-width="0.10">12</text>
<line x1="480.60" y1="110.93" x2="482.40" y2="110.93" stroke="#f03c3c" stroke-width="1.00"/>
<line x1="479.40" y1="96.60" x2="482.40" y2="96.60" stroke="#f03c3c" stroke-width="1.00"/>
<text transform="translate(486.50 99.30) scale(0.895 1)" font-size="9.40" text-anchor="start" fill="#f04a4a" stroke="#f04a4a" stroke-width="0.10">14</text>
<line x1="480.60" y1="82.27" x2="482.40" y2="82.27" stroke="#f03c3c" stroke-width="1.00"/>
<line x1="479.40" y1="67.93" x2="482.40" y2="67.93" stroke="#f03c3c" stroke-width="1.00"/>
<text transform="translate(486.50 70.63) scale(0.895 1)" font-size="9.40" text-anchor="start" fill="#f04a4a" stroke="#f04a4a" stroke-width="0.10">16</text>
<line x1="480.60" y1="53.60" x2="482.40" y2="53.60" stroke="#f03c3c" stroke-width="1.00"/>
<line x1="479.40" y1="39.27" x2="482.40" y2="39.27" stroke="#f03c3c" stroke-width="1.00"/>
<text transform="translate(486.50 41.97) scale(0.895 1)" font-size="9.40" text-anchor="start" fill="#f04a4a" stroke="#f04a4a" stroke-width="0.10">18</text>
<line x1="480.60" y1="24.93" x2="482.40" y2="24.93" stroke="#f03c3c" stroke-width="1.00"/>
<line x1="479.40" y1="10.60" x2="482.40" y2="10.60" stroke="#f03c3c" stroke-width="1.00"/>
<text transform="translate(486.50 13.30) scale(0.895 1)" font-size="9.40" text-anchor="start" fill="#f04a4a" stroke="#f04a4a" stroke-width="0.10">20</text>
<text transform="translate(509.00 116.45) rotate(-90)" font-size="10.20" text-anchor="middle" fill="#f04a4a" stroke="#f04a4a" stroke-width="0.12">Time to max. temperature / s</text>
<line x1="515.60" y1="10.10" x2="515.60" y2="226.10" stroke="#2a6fdc" stroke-width="1.00"/>
<line x1="512.10" y1="225.60" x2="515.60" y2="225.60" stroke="#2a6fdc" stroke-width="1.00"/>
<text transform="translate(520.60 228.30) scale(0.895 1)" font-size="9.40" text-anchor="start" fill="#2f7ae2" stroke="#2f7ae2" stroke-width="0.10">40</text>
<line x1="513.60" y1="210.24" x2="515.60" y2="210.24" stroke="#2a6fdc" stroke-width="1.00"/>
<line x1="512.10" y1="194.89" x2="515.60" y2="194.89" stroke="#2a6fdc" stroke-width="1.00"/>
<text transform="translate(520.60 197.59) scale(0.895 1)" font-size="9.40" text-anchor="start" fill="#2f7ae2" stroke="#2f7ae2" stroke-width="0.10">50</text>
<line x1="513.60" y1="179.53" x2="515.60" y2="179.53" stroke="#2a6fdc" stroke-width="1.00"/>
<line x1="512.10" y1="164.17" x2="515.60" y2="164.17" stroke="#2a6fdc" stroke-width="1.00"/>
<text transform="translate(520.60 166.87) scale(0.895 1)" font-size="9.40" text-anchor="start" fill="#2f7ae2" stroke="#2f7ae2" stroke-width="0.10">60</text>
<line x1="513.60" y1="148.81" x2="515.60" y2="148.81" stroke="#2a6fdc" stroke-width="1.00"/>
<line x1="512.10" y1="133.46" x2="515.60" y2="133.46" stroke="#2a6fdc" stroke-width="1.00"/>
<text transform="translate(520.60 136.16) scale(0.895 1)" font-size="9.40" text-anchor="start" fill="#2f7ae2" stroke="#2f7ae2" stroke-width="0.10">70</text>
<line x1="513.60" y1="118.10" x2="515.60" y2="118.10" stroke="#2a6fdc" stroke-width="1.00"/>
<line x1="512.10" y1="102.74" x2="515.60" y2="102.74" stroke="#2a6fdc" stroke-width="1.00"/>
<text transform="translate(520.60 105.44) scale(0.895 1)" font-size="9.40" text-anchor="start" fill="#2f7ae2" stroke="#2f7ae2" stroke-width="0.10">80</text>
<line x1="513.60" y1="87.39" x2="515.60" y2="87.39" stroke="#2a6fdc" stroke-width="1.00"/>
<line x1="512.10" y1="72.03" x2="515.60" y2="72.03" stroke="#2a6fdc" stroke-width="1.00"/>
<text transform="translate(520.60 74.73) scale(0.895 1)" font-size="9.40" text-anchor="start" fill="#2f7ae2" stroke="#2f7ae2" stroke-width="0.10">90</text>
<line x1="513.60" y1="56.67" x2="515.60" y2="56.67" stroke="#2a6fdc" stroke-width="1.00"/>
<line x1="512.10" y1="41.31" x2="515.60" y2="41.31" stroke="#2a6fdc" stroke-width="1.00"/>
<text transform="translate(520.60 44.01) scale(0.895 1)" font-size="9.40" text-anchor="start" fill="#2f7ae2" stroke="#2f7ae2" stroke-width="0.10">100</text>
<line x1="513.60" y1="25.96" x2="515.60" y2="25.96" stroke="#2a6fdc" stroke-width="1.00"/>
<line x1="512.10" y1="10.60" x2="515.60" y2="10.60" stroke="#2a6fdc" stroke-width="1.00"/>
<text transform="translate(520.60 13.30) scale(0.895 1)" font-size="9.40" text-anchor="start" fill="#2f7ae2" stroke="#2f7ae2" stroke-width="0.10">110</text>
<text transform="translate(544.00 118.00) rotate(-90)" font-size="10.20" text-anchor="middle" fill="#2f7ae2" stroke="#2f7ae2" stroke-width="0.12">Average heating rate / K s<tspan font-size="7" dy="-3.5">−1</tspan></text>
</svg>
</div></body></html>
